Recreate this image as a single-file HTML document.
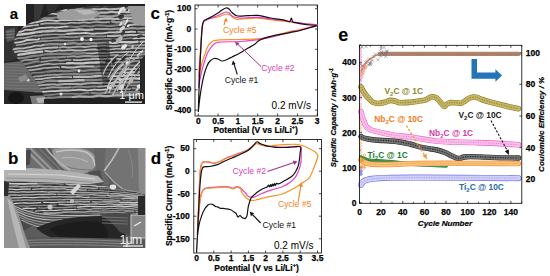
<!DOCTYPE html>
<html><head><meta charset="utf-8"><style>
html,body{margin:0;padding:0;background:#fff;}
svg{display:block;}
text{font-family:"Liberation Sans",sans-serif;}
.tk{font-size:8.5px;font-weight:bold;stroke:#000;stroke-width:0.25px;}
.ax{font-size:8.5px;font-weight:bold;stroke:#000;stroke-width:0.2px;}
.it{font-style:italic;}
.lb{font-size:8.6px;}
.b{font-weight:bold;}
.eb{font-size:8.4px;font-weight:bold;}
.rt{font-size:10px;}
.pl{font-size:14px;font-weight:bold;stroke:#000;stroke-width:0.12px;}
</style></head><body>
<svg width="550" height="276" viewBox="0 0 550 276">
<rect width="550" height="276" fill="#fff"/>
<clipPath id="ca"><path d="M26,4 H145 V104 H4 V26 H26 Z"/></clipPath>
<clipPath id="pa"><path d="M24,26 L28,24 L40,19 L52,13 L66,9 L85,7 L110,6 L130,6 L146,6 L146,55 L140,60 L140,97 L130,99 L100,98 L70,98 L46,99 L42,92 L32,75 L22,62 L12,56 L12,44 L18,32 Z"/></clipPath>
<filter id="bl" x="0" y="0" width="1" height="1"><feGaussianBlur stdDeviation="0.35"/></filter>
<g clip-path="url(#ca)"><g filter="url(#bl)">
<rect x="0" y="0" width="150" height="110" fill="#242424"/>
<path d="M34,4 L44,4 L40,18 L34,21 Z" fill="#383838"/>
<path d="M46,4 L60,4 L54,12 L48,14 Z" fill="#2e2e2e"/>
<path d="M4,26 H18 L17,40 L15,60 L4,62 Z" fill="#333"/>
<path d="M6,30 L15,28 L14,40 L7,42 Z" fill="#5a5a5a"/>
<path d="M5,32 L15,31" stroke="#808080" stroke-width="0.8"/>
<path d="M5,35 L15,34" stroke="#808080" stroke-width="0.8"/>
<path d="M5,38 L15,37" stroke="#808080" stroke-width="0.8"/>
<path d="M4,63 L22,61 L32,75 L43,92 L22,93 L4,91 Z" fill="#666"/>
<path d="M5,64 L23.5,65" stroke="#7a7a7a" stroke-width="0.8"/>
<path d="M5,67 L25.8,68" stroke="#7a7a7a" stroke-width="0.8"/>
<path d="M5,70 L28.0,71" stroke="#7a7a7a" stroke-width="0.8"/>
<path d="M5,73 L30.2,74" stroke="#7a7a7a" stroke-width="0.8"/>
<path d="M5,76 L32.5,77" stroke="#7a7a7a" stroke-width="0.8"/>
<path d="M5,79 L34.8,80" stroke="#7a7a7a" stroke-width="0.8"/>
<path d="M5,82 L37.0,83" stroke="#7a7a7a" stroke-width="0.8"/>
<path d="M5,85 L39.2,86" stroke="#7a7a7a" stroke-width="0.8"/>
<path d="M5,88 L41.5,89" stroke="#7a7a7a" stroke-width="0.8"/>
<path d="M5,91 L42.0,92" stroke="#7a7a7a" stroke-width="0.8"/>
<circle cx="28" cy="80" r="1.6" fill="#d8d8d8"/><path d="M18,78 L26,74 L28,80 L20,82 Z" fill="#8a8a8a"/>
<path d="M4,90 L34,92 L38,104 L4,104 Z" fill="#262626"/>
<ellipse cx="16" cy="98" rx="8" ry="6" fill="#161616"/>
<path d="M30,96 L52,95 L58,104 L32,104 Z" fill="#7a7a7a"/>
<path d="M36,98 L46,97 L50,102 L38,103 Z" fill="#b0b0b0"/>
<g clip-path="url(#pa)">
<rect x="0" y="0" width="150" height="110" fill="#383838"/>
<path d="M14.6,11.2 C15.8,11.0 19.6,10.3 21.9,10.2 C24.1,10.0 26.3,10.3 28.2,10.0 C30.1,9.7 31.3,8.8 33.1,8.5 C34.8,8.1 36.8,8.1 38.7,7.8 C40.7,7.5 42.9,6.7 44.9,6.7 C47.0,6.6 49.6,7.3 51.2,7.3 C52.8,7.4 53.8,6.9 54.3,6.8" stroke="#ababab" stroke-width="2.07" fill="none" stroke-linecap="round"/>
<path d="M55.0,7.3 C55.7,7.2 57.6,7.2 59.2,7.0 C60.7,6.8 62.7,6.3 64.3,6.2 C65.9,6.0 66.8,6.2 68.8,6.2 C70.8,6.1 73.8,5.8 76.1,5.8 C78.3,5.8 80.4,6.1 82.4,6.1 C84.4,6.1 86.3,6.0 87.9,5.8 C89.5,5.7 91.0,5.3 92.1,5.2 C93.3,5.2 94.4,5.5 94.8,5.6" stroke="#c6c6c6" stroke-width="2.14" fill="none" stroke-linecap="round"/>
<path d="M96.4,6.0 C97.3,5.8 100.1,5.2 101.8,5.1 C103.5,5.1 105.0,5.6 106.6,5.5 C108.1,5.5 109.2,5.0 110.9,4.9 C112.6,4.8 114.9,4.8 116.9,4.8 C118.8,4.8 121.0,4.9 122.7,4.9 C124.3,4.8 125.5,4.7 127.0,4.6 C128.4,4.6 129.5,4.4 131.6,4.3 C133.7,4.3 138.0,4.2 139.3,4.2 C140.7,4.2 139.6,4.2 139.7,4.2" stroke="#b8b8b8" stroke-width="1.66" fill="none" stroke-linecap="round"/>
<path d="M141.6,4.0 L146.0,4.1" stroke="#b8b8b8" stroke-width="2.24" fill="none" stroke-linecap="round"/>
<path d="M15.8,15.4 C16.7,15.2 19.0,14.8 21.0,14.5 C23.0,14.1 25.5,13.6 27.8,13.3 C30.0,13.0 32.7,13.0 34.6,12.7 C36.5,12.5 38.3,11.8 39.0,11.7" stroke="#838383" stroke-width="2.35" fill="none" stroke-linecap="round"/>
<path d="M40.4,11.0 C41.6,10.9 45.5,10.4 47.5,10.3 C49.5,10.2 50.4,10.5 52.5,10.4 C54.6,10.4 57.8,10.0 60.0,9.9 C62.2,9.9 64.7,10.2 65.8,10.2 C66.8,10.2 66.2,10.2 66.3,10.1" stroke="#c6c6c6" stroke-width="2.26" fill="none" stroke-linecap="round"/>
<path d="M68.9,10.5 C70.1,10.4 73.7,9.9 75.7,9.7 C77.6,9.5 79.0,9.3 80.6,9.3 C82.2,9.3 83.8,9.7 85.2,9.7 C86.6,9.8 87.8,9.9 89.3,9.8 C90.7,9.7 92.4,9.2 94.0,9.1 C95.5,9.0 96.7,9.3 98.6,9.2 C100.4,9.2 103.2,8.8 105.0,8.8 C106.8,8.8 107.5,9.2 109.5,9.2 C111.6,9.2 114.8,8.9 117.3,8.8 C119.8,8.6 123.1,8.5 124.3,8.4" stroke="#b8b8b8" stroke-width="1.97" fill="none" stroke-linecap="round"/>
<path d="M126.9,8.2 C127.9,8.1 130.5,7.9 132.5,7.8 C134.6,7.6 137.3,7.6 139.1,7.5 C140.9,7.5 142.2,7.5 143.3,7.5 C144.5,7.6 145.6,7.7 146.0,7.7" stroke="#838383" stroke-width="1.87" fill="none" stroke-linecap="round"/>
<path d="M16.3,18.0 C17.1,18.0 19.2,17.7 21.1,17.6 C23.0,17.5 25.5,17.5 27.7,17.2 C29.8,16.9 32.3,16.1 34.1,15.8 C35.9,15.4 36.5,15.4 38.5,15.1 C40.6,14.8 44.3,14.3 46.4,14.1 C48.6,13.8 49.7,13.6 51.7,13.6 C53.7,13.6 56.5,14.0 58.7,14.0 C60.8,14.0 63.2,13.8 64.6,13.8 C66.0,13.7 66.6,13.5 67.0,13.5" stroke="#b8b8b8" stroke-width="1.76" fill="none" stroke-linecap="round"/>
<path d="M69.9,13.4 C70.5,13.4 72.0,13.3 74.0,13.3 C76.0,13.3 79.4,13.5 81.9,13.4 C84.3,13.3 86.6,12.8 88.7,12.6 C90.7,12.4 92.7,12.3 94.1,12.3 C95.6,12.3 96.7,12.5 97.2,12.6" stroke="#b8b8b8" stroke-width="2.03" fill="none" stroke-linecap="round"/>
<path d="M99.6,12.6 C100.8,12.6 104.8,12.7 106.8,12.6 C108.8,12.4 109.8,11.9 111.6,11.9 C113.3,11.8 115.4,12.3 117.2,12.3 C118.9,12.3 120.0,11.9 122.0,11.8 C123.9,11.8 126.6,12.2 128.9,12.1 C131.2,12.0 134.1,11.5 136.1,11.4 C138.0,11.3 139.2,11.4 140.8,11.4 C142.5,11.3 145.1,11.2 146.0,11.1" stroke="#b8b8b8" stroke-width="2.25" fill="none" stroke-linecap="round"/>
<path d="M14.9,22.3 C15.8,22.1 18.1,21.8 20.3,21.5 C22.5,21.2 26.2,20.6 28.2,20.4 C30.2,20.2 30.7,20.3 32.2,20.1 C33.8,19.9 36.3,19.3 37.6,19.0 C38.9,18.8 39.6,18.6 40.0,18.5" stroke="#ababab" stroke-width="1.70" fill="none" stroke-linecap="round"/>
<path d="M41.5,18.3 C42.3,18.2 44.5,18.1 46.2,18.0 C47.9,18.0 49.3,18.0 51.5,17.9 C53.7,17.7 57.2,17.3 59.4,17.2 C61.7,17.2 62.9,17.7 65.0,17.6 C67.1,17.5 70.0,16.8 71.9,16.6 C73.8,16.4 74.4,16.4 76.4,16.5 C78.5,16.5 82.0,16.9 84.1,16.9 C86.1,17.0 86.6,16.9 88.6,16.8 C90.7,16.7 94.8,16.5 96.6,16.4 C98.3,16.3 98.6,16.2 99.0,16.2" stroke="#838383" stroke-width="2.04" fill="none" stroke-linecap="round"/>
<path d="M99.8,16.4 C100.6,16.3 102.7,16.2 104.2,16.2 C105.7,16.2 107.2,16.4 108.8,16.3 C110.4,16.3 112.1,16.3 113.6,16.1 C115.1,15.9 116.0,15.4 117.7,15.3 C119.4,15.2 121.8,15.7 123.7,15.7 C125.6,15.7 126.9,15.5 129.0,15.3 C131.1,15.1 134.0,14.6 136.3,14.6 C138.7,14.6 141.7,15.2 143.3,15.2 C144.9,15.2 145.5,14.8 146.0,14.7" stroke="#9c9c9c" stroke-width="2.25" fill="none" stroke-linecap="round"/>
<path d="M13.2,25.4 C14.0,25.2 16.0,24.6 17.9,24.3 C19.9,23.9 23.0,23.6 25.1,23.4 C27.3,23.2 29.5,23.2 31.0,23.0 C32.5,22.9 33.6,22.5 34.1,22.4" stroke="#c6c6c6" stroke-width="1.86" fill="none" stroke-linecap="round"/>
<path d="M35.9,22.4 C37.2,22.1 41.4,20.9 43.5,20.5 C45.5,20.1 46.7,20.2 48.2,20.2 C49.8,20.2 51.2,20.3 52.6,20.4 C54.1,20.5 55.4,20.8 56.7,20.8 C58.1,20.7 59.0,20.2 61.0,20.1 C63.0,20.0 66.8,20.2 68.9,20.1 C71.0,20.0 71.9,19.7 73.7,19.6 C75.5,19.6 78.7,20.0 79.7,20.0 C80.8,20.0 80.0,19.7 80.1,19.7" stroke="#c6c6c6" stroke-width="1.80" fill="none" stroke-linecap="round"/>
<path d="M81.9,20.0 C82.7,19.9 84.9,19.6 86.7,19.4 C88.4,19.3 90.5,19.2 92.4,19.2 C94.2,19.2 95.8,19.4 97.6,19.3 C99.4,19.2 101.5,18.8 103.3,18.7 C105.2,18.5 106.5,18.4 108.5,18.4 C110.6,18.5 113.4,19.1 115.7,19.0 C117.9,19.0 120.3,18.5 122.2,18.3 C124.2,18.1 125.4,17.9 127.2,17.9 C129.1,17.9 131.4,18.3 133.1,18.3 C134.8,18.4 136.0,18.4 137.5,18.3 C139.0,18.3 140.7,18.1 142.1,18.0 C143.6,17.9 145.4,17.7 146.0,17.7" stroke="#b8b8b8" stroke-width="2.17" fill="none" stroke-linecap="round"/>
<path d="M13.6,28.5 C14.5,28.4 16.9,28.1 18.9,27.8 C20.9,27.5 23.6,27.0 25.7,26.7 C27.9,26.3 29.7,26.0 31.8,25.7 C33.9,25.4 37.1,25.1 38.2,24.9" stroke="#b8b8b8" stroke-width="1.69" fill="none" stroke-linecap="round"/>
<path d="M41.0,24.1 C41.8,24.0 44.0,23.5 46.0,23.4 C48.1,23.3 51.2,23.4 53.2,23.4 C55.1,23.4 55.6,23.4 57.7,23.4 C59.7,23.5 63.2,23.7 65.3,23.6 C67.4,23.5 68.2,22.9 70.3,22.8 C72.5,22.7 75.6,23.1 78.0,23.0 C80.4,22.9 83.0,22.3 84.8,22.3 C86.7,22.3 87.4,22.8 89.1,22.8 C90.7,22.7 92.5,22.1 94.8,22.0 C97.0,21.9 100.0,22.3 102.5,22.3 C105.0,22.3 108.4,22.0 109.6,22.0" stroke="#ababab" stroke-width="1.67" fill="none" stroke-linecap="round"/>
<path d="M112.2,21.5 C112.9,21.6 114.6,22.2 116.2,22.3 C117.9,22.3 119.9,22.2 121.9,22.0 C123.9,21.8 126.2,21.0 128.4,20.9 C130.6,20.9 132.8,21.7 135.2,21.6 C137.7,21.6 141.4,20.8 143.1,20.7 C144.8,20.6 145.0,20.9 145.4,20.9" stroke="#9c9c9c" stroke-width="2.35" fill="none" stroke-linecap="round"/>
<path d="M14.3,31.8 C15.5,31.7 19.6,31.8 21.5,31.5 C23.4,31.1 24.0,30.1 25.7,29.9 C27.4,29.6 29.7,30.2 31.7,29.9 C33.7,29.6 35.8,28.6 37.8,28.3 C39.7,27.9 41.5,28.0 43.5,27.8 C45.6,27.7 48.0,27.5 50.2,27.4 C52.3,27.4 54.0,27.6 56.3,27.5 C58.7,27.4 62.3,26.8 64.2,26.7 C66.1,26.5 67.3,26.7 67.9,26.7" stroke="#c6c6c6" stroke-width="1.78" fill="none" stroke-linecap="round"/>
<path d="M68.9,26.4 C70.3,26.5 74.3,27.1 76.9,27.0 C79.4,26.9 81.9,25.9 84.2,25.8 C86.5,25.7 88.7,26.5 90.7,26.4 C92.8,26.4 94.4,25.6 96.5,25.4 C98.5,25.3 101.0,25.5 103.1,25.6 C105.2,25.7 107.1,26.0 109.1,26.0 C111.2,26.0 113.8,25.7 115.5,25.5 C117.3,25.3 118.2,25.0 119.7,24.9 C121.3,24.7 123.8,24.5 124.8,24.5 C125.7,24.6 125.3,24.9 125.4,25.0" stroke="#838383" stroke-width="1.86" fill="none" stroke-linecap="round"/>
<path d="M128.3,25.4 C129.2,25.3 132.0,24.8 133.6,24.6 C135.1,24.5 135.9,24.6 137.6,24.5 C139.2,24.5 142.1,24.5 143.5,24.5 C144.9,24.5 145.6,24.4 146.0,24.4" stroke="#b8b8b8" stroke-width="2.00" fill="none" stroke-linecap="round"/>
<path d="M13.2,35.3 C14.0,35.2 16.4,34.9 18.4,34.7 C20.3,34.5 22.5,34.3 24.7,34.0 C26.9,33.8 30.0,33.4 31.7,33.1 C33.5,32.8 34.6,32.5 35.2,32.4" stroke="#c6c6c6" stroke-width="2.30" fill="none" stroke-linecap="round"/>
<path d="M36.7,32.2 C37.6,32.1 40.2,31.7 41.8,31.5 C43.5,31.4 44.5,31.4 46.4,31.2 C48.3,31.1 51.2,30.8 53.3,30.7 C55.4,30.6 57.0,30.7 59.0,30.7 C61.0,30.7 62.9,30.9 65.0,30.8 C67.2,30.7 69.7,30.4 72.0,30.2 C74.4,30.0 77.0,29.5 79.3,29.4 C81.6,29.4 83.8,30.0 86.0,30.0 C88.3,30.0 91.6,29.6 92.7,29.5" stroke="#b8b8b8" stroke-width="2.36" fill="none" stroke-linecap="round"/>
<path d="M94.8,29.1 C95.8,29.1 98.2,28.9 100.3,28.9 C102.4,28.9 105.3,29.1 107.6,29.1 C109.9,29.2 112.7,29.1 114.1,29.0 C115.6,29.0 116.0,28.8 116.4,28.8" stroke="#9c9c9c" stroke-width="1.99" fill="none" stroke-linecap="round"/>
<path d="M116.9,28.8 C117.9,28.8 121.3,28.8 123.1,28.8 C124.8,28.8 125.8,28.9 127.3,28.7 C128.9,28.6 130.7,28.0 132.3,27.9 C134.0,27.9 135.7,28.4 137.4,28.4 C139.0,28.5 140.8,28.4 142.2,28.3 C143.6,28.2 145.4,28.0 146.0,27.9" stroke="#9c9c9c" stroke-width="2.00" fill="none" stroke-linecap="round"/>
<path d="M14.3,39.4 C15.0,39.2 17.1,38.4 18.6,38.2 C20.2,38.0 21.9,38.3 23.6,38.1 C25.3,37.9 27.3,37.5 28.8,37.1 C30.4,36.8 31.4,36.2 32.9,36.0 C34.4,35.8 36.0,36.0 38.0,35.8 C39.9,35.7 42.7,35.1 44.7,34.8 C46.7,34.6 48.1,34.6 49.9,34.5 C51.7,34.4 54.0,34.3 55.8,34.3 C57.5,34.3 58.7,34.5 60.2,34.6 C61.8,34.6 64.2,34.6 65.0,34.5 C65.8,34.4 65.1,34.1 65.1,34.0" stroke="#9c9c9c" stroke-width="1.61" fill="none" stroke-linecap="round"/>
<path d="M66.8,33.9 C67.6,33.8 69.7,33.6 71.9,33.5 C74.0,33.4 77.3,33.4 79.7,33.3 C82.0,33.2 83.9,33.0 86.0,33.0 C88.0,33.1 90.3,33.6 92.1,33.7 C93.8,33.7 94.8,33.5 96.6,33.4 C98.4,33.3 100.5,33.4 102.6,33.3 C104.8,33.1 107.1,32.6 109.5,32.4 C111.9,32.3 115.1,32.5 117.0,32.4 C119.0,32.3 119.5,31.9 121.1,31.8 C122.8,31.8 125.2,32.1 127.1,32.1 C129.0,32.1 131.0,31.7 132.3,31.6 C133.7,31.6 134.7,31.9 135.2,31.9" stroke="#c6c6c6" stroke-width="1.85" fill="none" stroke-linecap="round"/>
<path d="M137.8,31.7 C138.7,31.7 142.0,32.1 143.4,32.1 C144.8,32.1 145.6,31.7 146.0,31.6" stroke="#9c9c9c" stroke-width="1.61" fill="none" stroke-linecap="round"/>
<path d="M15.1,42.7 C16.3,42.6 20.1,42.1 22.2,41.6 C24.2,41.2 25.3,40.4 27.3,40.0 C29.3,39.7 32.1,39.8 33.9,39.6 C35.8,39.5 37.7,39.4 38.5,39.3 C39.4,39.1 38.9,38.8 39.0,38.7" stroke="#c6c6c6" stroke-width="1.85" fill="none" stroke-linecap="round"/>
<path d="M41.4,38.7 C42.5,38.6 45.5,38.4 47.9,38.2 C50.3,38.0 53.2,37.8 55.7,37.6 C58.1,37.4 60.3,36.9 62.6,36.9 C64.9,36.8 67.2,37.0 69.5,37.1 C71.8,37.1 74.5,37.2 76.5,37.0 C78.5,36.9 79.5,36.4 81.6,36.3 C83.8,36.1 87.1,36.2 89.4,36.1 C91.6,36.1 93.4,36.1 95.2,36.2 C97.1,36.2 98.7,36.4 100.4,36.4 C102.2,36.4 104.7,36.1 105.6,36.0" stroke="#8e8e8e" stroke-width="1.81" fill="none" stroke-linecap="round"/>
<path d="M107.7,36.1 C108.5,36.1 110.8,36.0 112.2,36.0 C113.7,35.9 114.6,35.8 116.5,35.7 C118.5,35.6 121.6,35.6 123.8,35.5 C126.0,35.4 127.4,35.2 129.6,35.1 C131.7,35.1 134.4,35.1 136.6,35.0 C138.8,34.9 141.3,34.7 142.8,34.7 C144.4,34.6 145.5,34.8 146.0,34.8" stroke="#b8b8b8" stroke-width="2.04" fill="none" stroke-linecap="round"/>
<path d="M16.6,45.2 C17.5,45.0 20.4,44.7 22.2,44.4 C24.1,44.1 26.1,43.7 27.7,43.4 C29.3,43.1 29.9,43.1 32.0,42.7 C34.0,42.4 37.5,41.7 39.8,41.4 C42.2,41.1 43.6,41.2 45.9,41.1 C48.1,40.9 51.2,40.6 53.3,40.5 C55.4,40.3 56.6,40.4 58.4,40.3 C60.2,40.3 61.8,40.3 64.0,40.4 C66.2,40.4 70.1,40.6 71.8,40.5 C73.5,40.5 73.7,40.2 74.0,40.1" stroke="#9c9c9c" stroke-width="1.62" fill="none" stroke-linecap="round"/>
<path d="M74.6,40.4 C75.9,40.3 80.5,39.9 82.5,39.9 C84.5,39.8 84.8,40.2 86.8,40.2 C88.8,40.1 92.2,39.7 94.5,39.5 C96.8,39.4 98.2,39.4 100.4,39.3 C102.5,39.2 105.5,38.8 107.5,38.8 C109.5,38.9 110.6,39.4 112.1,39.4 C113.6,39.5 114.7,39.2 116.5,39.2 C118.4,39.1 121.0,39.2 123.4,39.0 C125.7,38.8 129.4,38.1 130.9,38.0 C132.5,37.9 132.5,38.3 132.8,38.4" stroke="#838383" stroke-width="1.60" fill="none" stroke-linecap="round"/>
<path d="M133.6,38.5 C134.5,38.4 137.1,37.9 138.8,37.8 C140.5,37.8 142.6,38.1 143.8,38.2 C145.0,38.2 145.6,38.0 146.0,38.0" stroke="#c6c6c6" stroke-width="1.69" fill="none" stroke-linecap="round"/>
<path d="M13.5,49.4 C14.2,49.2 15.9,48.7 17.6,48.5 C19.2,48.3 21.3,48.5 23.4,48.3 C25.5,48.0 27.9,47.6 30.0,47.2 C32.1,46.8 34.1,45.9 35.9,45.7 C37.7,45.4 39.4,45.8 40.9,45.6 C42.4,45.5 44.1,44.8 44.7,44.6" stroke="#b8b8b8" stroke-width="1.85" fill="none" stroke-linecap="round"/>
<path d="M45.3,44.7 C46.0,44.6 47.9,44.2 49.6,44.1 C51.3,44.0 53.3,44.1 55.3,44.1 C57.2,44.1 59.1,44.3 61.3,44.3 C63.4,44.2 66.1,43.9 68.1,43.7 C70.2,43.5 71.9,43.2 73.7,43.2 C75.5,43.2 77.3,43.8 78.9,43.9 C80.5,43.9 81.6,43.5 83.2,43.4 C84.7,43.3 86.4,43.6 88.0,43.5 C89.6,43.5 91.1,43.1 92.7,43.1 C94.4,43.1 96.2,43.4 97.8,43.4 C99.4,43.3 100.4,43.0 102.2,43.0 C104.0,42.9 107.5,43.1 108.7,43.0 C109.9,43.0 109.4,42.7 109.5,42.6" stroke="#8e8e8e" stroke-width="2.33" fill="none" stroke-linecap="round"/>
<path d="M110.2,42.5 C111.0,42.6 113.4,43.0 115.0,42.9 C116.6,42.8 118.1,42.0 119.6,41.9 C121.0,41.7 121.8,42.0 123.8,42.1 C125.8,42.2 129.1,42.4 131.4,42.3 C133.7,42.3 136.5,41.9 137.5,41.8" stroke="#c6c6c6" stroke-width="2.40" fill="none" stroke-linecap="round"/>
<path d="M140.3,41.8 L146.0,41.5" stroke="#b8b8b8" stroke-width="1.97" fill="none" stroke-linecap="round"/>
<path d="M15.0,51.9 C15.7,51.8 17.6,51.4 19.3,51.2 C21.0,51.1 23.0,51.4 25.0,51.2 C27.0,51.0 29.3,50.4 31.2,50.1 C33.2,49.8 35.0,49.6 36.7,49.3 C38.5,49.0 40.4,48.8 42.0,48.6 C43.6,48.3 44.8,48.1 46.3,48.0 C47.9,47.8 49.4,47.8 51.1,47.7 C52.9,47.5 55.9,47.3 56.9,47.3 C57.9,47.2 57.1,47.4 57.1,47.4" stroke="#b8b8b8" stroke-width="1.98" fill="none" stroke-linecap="round"/>
<path d="M59.2,47.6 C59.9,47.5 62.0,46.8 63.4,46.8 C64.8,46.8 66.1,47.5 67.6,47.5 C69.2,47.6 70.5,47.4 72.6,47.2 C74.7,47.1 78.1,46.6 80.2,46.6 C82.3,46.6 83.4,47.1 85.3,47.0 C87.2,47.0 89.6,46.3 91.8,46.2 C94.0,46.0 96.7,46.1 98.7,46.0 C100.6,45.9 101.7,45.5 103.8,45.5 C105.8,45.6 108.5,46.2 110.8,46.2 C113.0,46.3 115.8,46.2 117.3,46.1 C118.8,46.0 119.4,45.6 119.8,45.6" stroke="#ababab" stroke-width="1.79" fill="none" stroke-linecap="round"/>
<path d="M121.5,45.4 C122.3,45.4 124.6,45.3 126.5,45.3 C128.3,45.3 130.7,45.6 132.4,45.6 C134.2,45.6 135.2,45.4 137.2,45.3 C139.1,45.3 142.7,45.2 144.1,45.1 C145.6,45.1 145.7,44.8 146.0,44.8" stroke="#8e8e8e" stroke-width="2.09" fill="none" stroke-linecap="round"/>
<path d="M18.3,54.9 C19.4,54.7 23.4,54.2 25.3,53.9 C27.2,53.6 27.8,53.3 29.5,53.0 C31.3,52.8 33.6,52.6 35.8,52.4 C37.9,52.1 41.1,51.7 42.2,51.6" stroke="#c6c6c6" stroke-width="2.31" fill="none" stroke-linecap="round"/>
<path d="M45.2,50.9 C46.1,51.0 48.6,51.6 50.9,51.5 C53.1,51.4 56.7,50.6 58.8,50.4 C60.8,50.3 61.3,50.6 63.3,50.6 C65.3,50.5 68.6,50.1 70.9,50.1 C73.1,50.1 74.8,50.5 77.0,50.5 C79.2,50.5 82.0,50.4 84.1,50.3 C86.1,50.1 87.5,49.8 89.2,49.6 C90.9,49.5 93.1,49.4 94.3,49.4 C95.5,49.4 96.1,49.6 96.4,49.6" stroke="#b8b8b8" stroke-width="1.95" fill="none" stroke-linecap="round"/>
<path d="M97.4,50.0 C98.4,49.9 101.7,49.3 103.7,49.2 C105.7,49.2 107.3,49.8 109.3,49.7 C111.2,49.7 113.1,48.9 115.3,48.8 C117.5,48.7 120.9,49.0 122.5,49.0 C124.2,49.0 124.6,48.8 125.1,48.8" stroke="#ababab" stroke-width="1.68" fill="none" stroke-linecap="round"/>
<path d="M126.7,49.1 C127.4,49.0 129.5,48.5 130.9,48.4 C132.3,48.2 133.3,48.2 135.4,48.1 C137.4,48.1 141.5,48.3 143.3,48.3 C145.0,48.3 145.5,48.2 146.0,48.1" stroke="#ababab" stroke-width="1.90" fill="none" stroke-linecap="round"/>
<path d="M18.2,58.2 C19.3,58.1 22.7,58.0 24.6,57.7 C26.5,57.5 27.9,57.1 29.5,56.7 C31.0,56.4 32.4,56.1 34.0,55.9 C35.6,55.7 37.1,55.8 39.0,55.5 C41.0,55.3 43.9,54.4 45.6,54.2 C47.4,54.0 47.9,54.3 49.7,54.2 C51.5,54.2 54.4,54.0 56.4,53.9 C58.4,53.8 59.6,53.8 61.7,53.8 C63.7,53.8 66.9,54.0 68.8,53.9 C70.7,53.8 71.4,53.4 73.1,53.3 C74.7,53.3 76.6,53.7 78.7,53.6 C80.7,53.5 84.1,53.0 85.2,52.9 C86.4,52.9 85.4,53.3 85.5,53.3" stroke="#838383" stroke-width="2.16" fill="none" stroke-linecap="round"/>
<path d="M87.0,53.2 C87.7,53.2 89.3,53.5 91.2,53.4 C93.2,53.3 96.8,52.9 98.7,52.8 C100.7,52.8 100.9,53.1 102.8,53.1 C104.7,53.1 107.9,52.9 110.0,52.7 C112.2,52.6 113.4,52.4 115.6,52.3 C117.8,52.2 121.3,52.2 123.4,52.1 C125.4,52.0 126.5,51.7 128.0,51.7 C129.5,51.7 130.7,51.9 132.4,52.0 C134.0,52.1 136.5,52.1 137.8,52.0 C139.2,52.0 140.0,51.7 140.4,51.7" stroke="#b8b8b8" stroke-width="1.64" fill="none" stroke-linecap="round"/>
<path d="M141.3,51.8 L146.0,51.5" stroke="#8e8e8e" stroke-width="2.00" fill="none" stroke-linecap="round"/>
<path d="M13.4,62.2 C14.6,62.1 18.6,61.9 20.6,61.6 C22.6,61.2 23.3,60.3 25.4,60.0 C27.5,59.7 30.9,60.0 33.2,59.7 C35.4,59.4 37.9,58.6 38.8,58.4" stroke="#9c9c9c" stroke-width="1.64" fill="none" stroke-linecap="round"/>
<path d="M41.6,58.2 C42.8,58.1 46.2,57.8 48.4,57.7 C50.6,57.6 52.8,57.6 54.9,57.5 C57.1,57.4 59.6,57.2 61.4,57.1 C63.3,56.9 65.2,56.8 65.9,56.8" stroke="#8e8e8e" stroke-width="1.98" fill="none" stroke-linecap="round"/>
<path d="M67.9,56.8 C68.8,56.7 71.6,56.2 73.4,56.2 C75.1,56.2 76.3,56.7 78.4,56.7 C80.5,56.6 83.7,55.8 86.0,55.7 C88.3,55.7 90.5,56.2 92.2,56.3 C94.0,56.4 94.9,56.3 96.4,56.2 C97.8,56.2 99.1,55.9 100.8,55.9 C102.6,55.8 105.9,55.7 107.0,55.7 C108.2,55.6 107.7,55.6 107.8,55.5" stroke="#9c9c9c" stroke-width="1.94" fill="none" stroke-linecap="round"/>
<path d="M109.8,55.4 C110.8,55.3 114.1,54.9 115.8,55.0 C117.5,55.0 118.2,55.7 119.8,55.7 C121.5,55.7 123.6,55.0 125.7,55.0 C127.7,54.9 129.9,55.1 132.2,55.1 C134.5,55.1 137.4,55.1 139.5,54.9 C141.7,54.7 144.0,54.1 145.1,54.0 C146.2,53.9 145.9,54.3 146.0,54.4" stroke="#8e8e8e" stroke-width="1.89" fill="none" stroke-linecap="round"/>
<path d="M12.3,66.0 C13.2,65.9 16.0,65.3 17.6,65.0 C19.2,64.8 19.9,64.7 21.9,64.4 C23.9,64.1 27.0,63.7 29.5,63.2 C31.9,62.7 35.1,61.8 36.6,61.5 C38.2,61.2 38.5,61.6 38.8,61.6" stroke="#838383" stroke-width="2.09" fill="none" stroke-linecap="round"/>
<path d="M41.1,61.8 C42.1,61.7 44.8,61.4 47.0,61.1 C49.3,60.8 52.2,60.2 54.7,60.1 C57.2,60.0 60.0,60.7 61.9,60.6 C63.8,60.6 64.6,60.0 66.1,59.9 C67.6,59.8 70.0,59.9 70.8,59.9" stroke="#9c9c9c" stroke-width="1.73" fill="none" stroke-linecap="round"/>
<path d="M73.5,59.8 C74.3,59.9 76.7,60.2 78.5,60.2 C80.3,60.1 82.4,59.8 84.4,59.6 C86.5,59.4 88.9,59.2 90.9,59.1 C92.9,58.9 94.5,58.9 96.4,58.9 C98.2,58.9 100.2,59.2 102.0,59.1 C103.8,59.1 105.3,58.7 107.1,58.7 C108.9,58.6 110.9,59.0 112.6,59.0 C114.4,59.0 116.1,58.8 117.7,58.8 C119.2,58.8 119.9,58.9 121.9,58.8 C123.9,58.6 127.4,58.2 129.7,58.1 C132.1,58.0 134.3,58.2 135.8,58.2 C137.3,58.1 138.3,57.9 138.8,57.9" stroke="#b8b8b8" stroke-width="1.80" fill="none" stroke-linecap="round"/>
<path d="M140.6,57.7 L146.0,57.7" stroke="#8e8e8e" stroke-width="1.90" fill="none" stroke-linecap="round"/>
<path d="M15.5,69.2 C16.4,69.0 19.0,68.2 20.7,68.0 C22.5,67.7 23.8,67.9 26.0,67.6 C28.1,67.4 30.9,66.9 33.4,66.5 C36.0,66.1 38.6,65.6 41.0,65.1 C43.5,64.7 46.0,64.1 48.0,63.9 C50.0,63.8 51.4,64.2 53.2,64.2 C55.0,64.2 57.2,63.8 58.9,63.8 C60.5,63.7 61.8,63.8 63.0,63.8 C64.3,63.7 65.8,63.7 66.3,63.7" stroke="#ababab" stroke-width="1.64" fill="none" stroke-linecap="round"/>
<path d="M66.9,63.3 C67.8,63.3 70.4,63.2 72.4,63.2 C74.3,63.2 76.8,63.4 78.7,63.4 C80.6,63.4 81.7,63.4 83.5,63.3 C85.3,63.2 87.1,62.8 89.4,62.6 C91.7,62.5 95.1,62.6 97.2,62.5 C99.2,62.4 100.5,62.2 101.8,62.2 C103.0,62.2 104.2,62.5 104.7,62.5" stroke="#c6c6c6" stroke-width="2.30" fill="none" stroke-linecap="round"/>
<path d="M107.1,62.9 C107.9,62.9 109.4,62.8 111.4,62.6 C113.3,62.5 116.6,62.3 118.9,62.2 C121.3,62.1 123.2,62.1 125.3,62.0 C127.3,61.9 129.5,61.9 131.3,61.7 C133.1,61.6 134.5,61.2 136.0,61.1 C137.5,61.0 138.7,61.0 140.2,61.0 C141.7,61.0 144.0,60.9 145.0,61.0 C145.9,61.0 145.8,61.2 146.0,61.3" stroke="#8e8e8e" stroke-width="1.68" fill="none" stroke-linecap="round"/>
<path d="M13.1,72.8 C14.2,72.6 17.6,72.0 19.7,71.6 C21.9,71.3 24.4,71.0 26.2,70.7 C28.0,70.5 28.4,70.5 30.4,70.2 C32.5,69.9 36.1,69.5 38.4,69.1 C40.7,68.7 42.4,68.3 44.3,68.0 C46.2,67.8 47.6,67.8 49.8,67.7 C52.0,67.5 55.9,67.1 57.5,67.1 C59.0,67.1 58.8,67.4 59.1,67.5" stroke="#ababab" stroke-width="1.74" fill="none" stroke-linecap="round"/>
<path d="M62.0,66.9 C62.9,67.0 65.4,67.4 67.4,67.5 C69.4,67.6 71.9,67.5 74.2,67.4 C76.4,67.2 78.8,66.7 81.0,66.6 C83.2,66.5 85.1,66.6 87.2,66.6 C89.3,66.5 92.6,66.5 93.7,66.4" stroke="#b8b8b8" stroke-width="2.02" fill="none" stroke-linecap="round"/>
<path d="M94.8,66.8 C95.5,66.7 97.7,66.3 99.2,66.3 C100.7,66.2 101.8,66.6 103.8,66.5 C105.8,66.4 109.2,65.7 111.2,65.6 C113.2,65.6 114.3,66.2 115.8,66.2 C117.4,66.2 118.8,65.7 120.6,65.5 C122.5,65.4 124.7,65.3 127.0,65.3 C129.3,65.3 131.9,65.6 134.4,65.6 C137.0,65.6 140.4,65.4 142.4,65.3 C144.3,65.2 145.4,64.9 146.0,64.9" stroke="#838383" stroke-width="1.98" fill="none" stroke-linecap="round"/>
<path d="M15.5,76.4 C16.7,76.1 20.4,75.2 22.7,74.8 C24.9,74.4 27.2,74.4 29.0,74.0 C30.8,73.7 32.2,73.0 33.7,72.8 C35.2,72.6 36.6,72.8 38.1,72.7 C39.6,72.6 41.3,72.6 42.8,72.4 C44.3,72.2 46.5,71.6 47.2,71.5" stroke="#838383" stroke-width="1.62" fill="none" stroke-linecap="round"/>
<path d="M48.0,71.7 C49.2,71.5 52.8,70.9 55.0,70.8 C57.2,70.7 59.1,70.9 61.3,70.9 C63.6,71.0 66.1,71.3 68.6,71.2 C71.1,71.0 73.7,70.2 76.2,70.2 C78.7,70.1 81.1,70.9 83.7,70.8 C86.2,70.7 89.3,70.0 91.4,69.8 C93.5,69.6 94.9,69.6 96.3,69.6 C97.6,69.7 99.1,69.9 99.7,69.9" stroke="#838383" stroke-width="2.28" fill="none" stroke-linecap="round"/>
<path d="M102.3,70.1 C103.3,70.0 106.9,69.7 108.8,69.6 C110.6,69.6 111.5,69.9 113.3,69.8 C115.2,69.7 117.9,69.3 119.9,69.1 C121.9,69.0 124.1,68.9 125.3,68.9 C126.4,68.9 126.4,69.1 126.6,69.1" stroke="#838383" stroke-width="2.34" fill="none" stroke-linecap="round"/>
<path d="M127.3,69.4 C128.3,69.3 131.7,68.9 133.7,68.9 C135.6,68.8 136.8,69.1 138.8,69.0 C140.9,68.9 144.8,68.1 146.0,68.1 C147.2,68.0 146.0,68.4 146.0,68.5" stroke="#b8b8b8" stroke-width="1.68" fill="none" stroke-linecap="round"/>
<path d="M13.7,79.3 C14.7,79.2 17.7,78.9 19.5,78.7 C21.3,78.5 23.1,78.4 24.6,78.1 C26.2,77.9 27.4,77.3 28.8,77.1 C30.3,76.9 31.3,77.0 33.2,76.8 C35.2,76.6 38.3,76.2 40.5,76.0 C42.8,75.7 44.8,75.4 46.9,75.2 C49.0,75.0 51.2,74.7 53.0,74.7 C54.7,74.6 56.0,74.8 57.6,74.8 C59.2,74.7 61.6,74.4 62.5,74.3" stroke="#9c9c9c" stroke-width="1.79" fill="none" stroke-linecap="round"/>
<path d="M63.4,74.3 C64.7,74.2 69.3,74.2 71.3,74.1 C73.4,74.0 74.3,73.7 75.8,73.7 C77.2,73.8 78.1,74.2 80.1,74.2 C82.1,74.2 85.5,73.9 87.7,73.8 C89.9,73.7 91.5,73.7 93.4,73.5 C95.3,73.4 97.0,73.1 98.9,73.0 C100.7,72.9 102.9,73.0 104.6,73.1 C106.3,73.2 107.4,73.4 109.3,73.4 C111.1,73.4 114.0,73.3 115.8,73.2 C117.6,73.0 119.3,72.8 120.3,72.7 C121.3,72.6 121.5,72.6 121.7,72.5" stroke="#838383" stroke-width="2.08" fill="none" stroke-linecap="round"/>
<path d="M122.3,72.2 C123.5,72.2 127.3,72.5 129.7,72.5 C132.1,72.4 134.5,71.8 136.6,71.8 C138.8,71.7 140.8,72.2 142.4,72.2 C144.0,72.2 145.4,71.9 146.0,71.8" stroke="#c6c6c6" stroke-width="1.70" fill="none" stroke-linecap="round"/>
<path d="M13.5,83.0 C14.6,82.8 17.6,82.3 20.0,81.9 C22.4,81.5 25.5,81.1 27.9,80.7 C30.3,80.3 32.4,79.6 34.3,79.4 C36.2,79.1 37.6,79.4 39.3,79.2 C40.9,79.1 42.1,78.8 44.3,78.5 C46.5,78.2 49.8,77.6 52.3,77.4 C54.7,77.1 57.0,77.3 58.9,77.2 C60.8,77.1 61.9,77.0 63.5,77.0 C65.1,77.0 67.4,77.0 68.7,77.0 C70.0,77.0 70.8,77.1 71.3,77.1" stroke="#b8b8b8" stroke-width="1.69" fill="none" stroke-linecap="round"/>
<path d="M74.0,76.9 C74.7,76.9 76.3,76.8 78.2,76.8 C80.1,76.8 83.2,76.9 85.3,76.9 C87.5,76.9 89.4,76.8 91.3,76.7 C93.3,76.5 95.2,76.1 97.2,76.0 C99.2,75.9 102.4,76.0 103.6,76.1 C104.8,76.1 104.2,76.1 104.4,76.1" stroke="#b8b8b8" stroke-width="2.33" fill="none" stroke-linecap="round"/>
<path d="M105.9,76.2 C107.2,76.2 111.0,76.1 113.3,76.0 C115.7,76.0 117.7,76.1 119.9,76.0 C122.1,76.0 124.6,75.7 126.5,75.6 C128.4,75.4 129.9,75.1 131.4,75.0 C133.0,74.9 134.3,75.1 135.9,75.1 C137.5,75.2 139.3,75.3 141.0,75.2 C142.6,75.2 145.2,74.9 146.0,74.9" stroke="#c6c6c6" stroke-width="1.79" fill="none" stroke-linecap="round"/>
<path d="M14.0,85.5 C15.2,85.4 19.1,85.1 21.4,84.9 C23.8,84.7 25.7,84.6 28.1,84.2 C30.4,83.9 33.7,82.9 35.7,82.6 C37.6,82.3 37.8,82.7 39.7,82.5 C41.6,82.2 45.2,81.1 47.3,80.9 C49.4,80.6 50.5,80.8 52.3,80.8 C54.1,80.8 57.2,80.9 58.1,80.9" stroke="#8e8e8e" stroke-width="2.36" fill="none" stroke-linecap="round"/>
<path d="M59.1,81.0 C60.2,81.0 63.3,81.0 65.3,80.9 C67.3,80.9 69.1,80.8 71.4,80.7 C73.6,80.6 76.5,80.4 78.7,80.3 C80.8,80.3 83.3,80.2 84.2,80.2" stroke="#b8b8b8" stroke-width="2.36" fill="none" stroke-linecap="round"/>
<path d="M85.2,80.1 C86.5,80.1 90.6,80.2 92.9,80.1 C95.3,80.1 97.5,80.0 99.4,79.8 C101.3,79.7 102.9,79.6 104.4,79.4 C106.0,79.3 107.0,79.0 108.7,79.0 C110.3,79.0 113.4,79.2 114.4,79.3" stroke="#838383" stroke-width="2.10" fill="none" stroke-linecap="round"/>
<path d="M116.6,78.9 C117.8,79.0 121.4,79.5 123.6,79.4 C125.7,79.4 127.4,78.7 129.7,78.5 C131.9,78.4 134.9,78.5 136.9,78.5 C138.9,78.4 140.2,78.1 141.7,78.1 C143.2,78.0 145.3,78.3 146.0,78.3" stroke="#c6c6c6" stroke-width="2.25" fill="none" stroke-linecap="round"/>
<path d="M17.8,89.1 C19.0,88.9 22.8,88.6 25.0,88.2 C27.2,87.8 28.9,87.2 30.9,86.8 C32.9,86.4 34.9,86.0 37.1,85.7 C39.4,85.3 42.0,85.0 44.4,84.8 C46.9,84.6 50.0,84.5 51.8,84.4 C53.7,84.4 54.8,84.5 55.4,84.5" stroke="#ababab" stroke-width="1.80" fill="none" stroke-linecap="round"/>
<path d="M57.0,84.8 C58.2,84.7 61.9,84.3 64.2,84.1 C66.5,84.0 68.7,83.9 70.8,83.9 C72.9,83.9 75.0,84.0 76.7,84.0 C78.5,84.1 79.6,84.3 81.1,84.2 C82.6,84.1 84.0,83.6 85.7,83.4 C87.4,83.3 89.3,83.1 91.2,83.1 C93.2,83.0 95.9,83.1 97.5,83.1 C99.1,83.1 100.5,83.2 101.1,83.2" stroke="#ababab" stroke-width="2.02" fill="none" stroke-linecap="round"/>
<path d="M102.4,82.6 C103.7,82.7 108.1,83.1 110.2,83.1 C112.4,83.0 113.6,82.5 115.2,82.4 C116.8,82.2 118.5,82.3 119.8,82.4 C121.1,82.4 122.6,82.5 123.2,82.5" stroke="#c6c6c6" stroke-width="1.88" fill="none" stroke-linecap="round"/>
<path d="M124.1,82.2 C125.3,82.2 129.2,82.4 131.6,82.4 C134.1,82.4 136.4,82.3 138.7,82.2 C141.1,82.1 144.8,81.9 146.0,81.8" stroke="#8e8e8e" stroke-width="2.23" fill="none" stroke-linecap="round"/>
<path d="M13.7,92.7 C15.0,92.5 19.1,92.0 21.2,91.7 C23.3,91.3 24.7,90.8 26.3,90.6 C27.9,90.3 29.4,90.3 30.9,90.2 C32.3,90.0 33.6,89.7 35.1,89.5 C36.6,89.3 37.9,89.1 39.7,88.8 C41.4,88.6 43.4,88.3 45.7,88.1 C47.9,87.8 50.6,87.4 53.1,87.3 C55.6,87.2 58.2,87.5 60.5,87.5 C62.7,87.6 65.0,87.6 66.7,87.5 C68.4,87.5 70.1,87.3 70.8,87.3" stroke="#9c9c9c" stroke-width="1.90" fill="none" stroke-linecap="round"/>
<path d="M72.3,87.4 C73.4,87.2 76.7,86.6 78.9,86.5 C81.1,86.5 83.0,87.0 85.3,87.0 C87.7,87.0 91.3,86.5 93.1,86.4 C94.9,86.3 95.6,86.5 96.1,86.5" stroke="#838383" stroke-width="2.01" fill="none" stroke-linecap="round"/>
<path d="M97.8,86.7 C98.9,86.6 102.0,86.2 104.3,86.1 C106.7,86.0 109.6,85.9 111.8,85.9 C114.0,85.9 116.4,85.9 117.7,85.9 C119.0,85.9 119.2,85.8 119.5,85.8" stroke="#ababab" stroke-width="1.77" fill="none" stroke-linecap="round"/>
<path d="M121.1,85.3 C122.0,85.3 124.4,85.5 126.3,85.5 C128.1,85.4 129.9,85.2 132.2,85.3 C134.6,85.3 138.0,85.6 140.2,85.6 C142.4,85.5 144.6,84.8 145.6,84.7 C146.5,84.6 145.9,85.0 146.0,85.0" stroke="#8e8e8e" stroke-width="1.69" fill="none" stroke-linecap="round"/>
<path d="M16.7,96.0 C17.6,95.8 20.4,95.1 22.3,94.7 C24.2,94.4 26.0,94.3 27.9,93.9 C29.8,93.5 31.9,92.8 33.5,92.6 C35.1,92.4 36.4,92.8 37.7,92.7 C39.0,92.6 40.5,92.0 41.1,91.9" stroke="#838383" stroke-width="2.21" fill="none" stroke-linecap="round"/>
<path d="M41.7,91.9 C42.8,91.8 46.0,91.4 48.2,91.3 C50.4,91.2 52.7,91.2 55.0,91.1 C57.2,90.9 59.5,90.6 61.7,90.5 C63.9,90.4 66.1,90.6 68.4,90.5 C70.7,90.4 73.5,90.1 75.4,90.0 C77.4,89.8 78.2,89.7 80.1,89.7 C82.1,89.8 85.0,90.4 87.2,90.4 C89.5,90.4 91.5,89.8 93.9,89.7 C96.2,89.6 98.9,89.9 101.2,89.9 C103.4,89.8 106.2,89.5 107.2,89.4" stroke="#c6c6c6" stroke-width="1.81" fill="none" stroke-linecap="round"/>
<path d="M108.5,88.9 C109.5,88.9 112.4,89.2 114.7,89.3 C117.1,89.3 120.1,89.0 122.4,88.9 C124.7,88.9 127.2,89.1 128.5,89.1 C129.8,89.0 129.9,88.8 130.2,88.7" stroke="#8e8e8e" stroke-width="1.94" fill="none" stroke-linecap="round"/>
<path d="M132.4,88.2 C133.3,88.2 135.8,88.5 138.0,88.6 C140.2,88.7 144.4,88.8 145.7,88.7 C147.1,88.7 146.0,88.3 146.0,88.2" stroke="#8e8e8e" stroke-width="1.93" fill="none" stroke-linecap="round"/>
<path d="M19.2,98.0 C20.3,97.8 23.5,97.5 25.9,97.1 C28.3,96.8 31.4,96.2 33.8,95.9 C36.1,95.6 38.9,95.5 39.9,95.4" stroke="#838383" stroke-width="1.70" fill="none" stroke-linecap="round"/>
<path d="M40.5,95.2 C41.6,95.2 45.4,95.1 47.5,95.0 C49.5,94.9 50.9,94.8 52.9,94.6 C55.0,94.4 57.4,94.0 59.7,93.8 C62.0,93.7 64.5,93.8 66.7,93.8 C69.0,93.7 70.8,93.7 73.0,93.8 C75.1,93.8 77.3,94.1 79.7,94.0 C82.0,93.8 85.8,93.0 87.3,92.9 C88.9,92.8 88.7,93.2 88.9,93.3" stroke="#838383" stroke-width="1.65" fill="none" stroke-linecap="round"/>
<path d="M91.6,92.8 C92.5,92.9 95.2,93.2 96.9,93.3 C98.5,93.4 99.8,93.4 101.6,93.3 C103.3,93.1 105.6,92.4 107.5,92.3 C109.4,92.2 111.1,92.6 113.0,92.7 C114.8,92.7 117.0,92.6 118.7,92.6 C120.4,92.6 121.6,92.6 123.3,92.6 C125.0,92.5 126.8,92.4 128.8,92.2 C130.8,92.1 133.3,91.9 135.3,91.8 C137.3,91.8 139.0,92.1 140.8,92.0 C142.6,92.0 145.1,91.7 146.0,91.6" stroke="#838383" stroke-width="2.23" fill="none" stroke-linecap="round"/>
<path d="M17.0,102.2 C17.9,102.0 20.1,101.5 22.3,101.2 C24.5,100.9 27.8,100.6 30.2,100.2 C32.6,99.8 34.6,99.0 36.6,98.7 C38.6,98.4 40.5,98.6 42.3,98.5 C44.2,98.3 45.9,97.9 47.8,97.8 C49.8,97.7 52.0,97.9 54.2,97.8 C56.5,97.7 59.6,97.1 61.5,97.0 C63.3,96.8 63.9,96.8 65.5,96.8 C67.1,96.8 70.1,97.0 71.2,97.0 C72.3,97.0 72.0,96.9 72.1,96.9" stroke="#838383" stroke-width="2.31" fill="none" stroke-linecap="round"/>
<path d="M72.7,97.2 C73.8,97.1 76.7,96.5 79.0,96.4 C81.3,96.3 84.1,96.7 86.4,96.7 C88.8,96.8 91.2,96.8 93.2,96.6 C95.2,96.5 96.6,95.7 98.6,95.7 C100.5,95.6 102.9,96.1 104.8,96.2 C106.6,96.2 107.5,96.1 109.6,96.0 C111.7,95.8 114.9,95.3 117.3,95.2 C119.7,95.2 121.7,95.6 123.7,95.5 C125.8,95.4 128.0,94.9 129.6,94.8 C131.2,94.8 132.7,95.0 133.3,95.0" stroke="#ababab" stroke-width="2.20" fill="none" stroke-linecap="round"/>
<path d="M135.8,95.0 C136.7,94.9 139.5,94.4 141.2,94.3 C142.9,94.3 145.2,94.6 146.0,94.6" stroke="#8e8e8e" stroke-width="2.02" fill="none" stroke-linecap="round"/>
<path d="M56,13 L72,9 L92,9 L102,13 L94,18 L74,20 L58,19 Z" fill="#9c9c9c"/>
<path d="M74,10 L90,10 L96,13 L84,15 Z" fill="#b8b8b8"/>
<ellipse cx="128.2" cy="25.8" rx="1.6" ry="1.0" transform="rotate(-25 128.2 25.8)" fill="#e6e6e6"/>
<ellipse cx="123.6" cy="57.7" rx="3.0" ry="1.8" transform="rotate(-48 123.6 57.7)" fill="#2a2a2a"/>
<ellipse cx="141.5" cy="51.4" rx="2.1" ry="1.4" transform="rotate(-56 141.5 51.4)" fill="#d4d4d4"/>
<ellipse cx="122.1" cy="10.7" rx="2.4" ry="0.8" transform="rotate(-58 122.1 10.7)" fill="#b0b0b0"/>
<ellipse cx="143.7" cy="84.2" rx="2.5" ry="1.1" transform="rotate(-14 143.7 84.2)" fill="#2a2a2a"/>
<ellipse cx="121.0" cy="16.5" rx="3.0" ry="1.8" transform="rotate(-12 121.0 16.5)" fill="#2a2a2a"/>
<ellipse cx="120.1" cy="11.3" rx="3.5" ry="1.3" transform="rotate(-59 120.1 11.3)" fill="#e6e6e6"/>
<ellipse cx="113.1" cy="40.5" rx="2.3" ry="1.9" transform="rotate(-15 113.1 40.5)" fill="#3a3a3a"/>
<ellipse cx="114.1" cy="60.6" rx="3.3" ry="1.6" transform="rotate(-56 114.1 60.6)" fill="#2a2a2a"/>
<ellipse cx="122.2" cy="28.5" rx="3.4" ry="1.6" transform="rotate(-40 122.2 28.5)" fill="#d4d4d4"/>
<ellipse cx="126.3" cy="22.1" rx="3.5" ry="1.1" transform="rotate(-58 126.3 22.1)" fill="#e6e6e6"/>
<ellipse cx="120.2" cy="39.0" rx="3.3" ry="1.8" transform="rotate(-58 120.2 39.0)" fill="#c4c4c4"/>
<ellipse cx="137.2" cy="70.4" rx="3.0" ry="1.4" transform="rotate(-55 137.2 70.4)" fill="#3a3a3a"/>
<ellipse cx="122.2" cy="8.5" rx="2.8" ry="1.2" transform="rotate(-30 122.2 8.5)" fill="#e6e6e6"/>
<ellipse cx="136.3" cy="17.3" rx="2.1" ry="1.3" transform="rotate(-41 136.3 17.3)" fill="#b0b0b0"/>
<ellipse cx="124.1" cy="46.8" rx="3.3" ry="1.9" transform="rotate(-37 124.1 46.8)" fill="#e6e6e6"/>
<ellipse cx="141.2" cy="78.3" rx="3.3" ry="1.1" transform="rotate(-13 141.2 78.3)" fill="#e6e6e6"/>
<ellipse cx="139.7" cy="86.2" rx="3.0" ry="1.9" transform="rotate(-14 139.7 86.2)" fill="#e6e6e6"/>
<ellipse cx="124.3" cy="9.9" rx="2.2" ry="1.2" transform="rotate(-19 124.3 9.9)" fill="#d4d4d4"/>
<ellipse cx="127.3" cy="63.3" rx="2.0" ry="1.7" transform="rotate(-51 127.3 63.3)" fill="#e6e6e6"/>
<ellipse cx="126.4" cy="86.3" rx="3.2" ry="1.1" transform="rotate(-39 126.4 86.3)" fill="#2a2a2a"/>
<ellipse cx="117.0" cy="31.9" rx="2.0" ry="1.0" transform="rotate(-35 117.0 31.9)" fill="#b0b0b0"/>
<ellipse cx="122.2" cy="87.5" rx="1.6" ry="1.4" transform="rotate(-28 122.2 87.5)" fill="#d4d4d4"/>
<ellipse cx="137.2" cy="89.4" rx="2.3" ry="1.1" transform="rotate(-47 137.2 89.4)" fill="#c4c4c4"/>
<ellipse cx="118.5" cy="40.1" rx="3.5" ry="1.9" transform="rotate(-55 118.5 40.1)" fill="#b0b0b0"/>
<ellipse cx="121.3" cy="86.9" rx="3.1" ry="2.0" transform="rotate(-53 121.3 86.9)" fill="#d4d4d4"/>
<ellipse cx="132.5" cy="46.9" rx="2.0" ry="1.0" transform="rotate(-60 132.5 46.9)" fill="#c4c4c4"/>
<ellipse cx="138.6" cy="54.3" rx="2.0" ry="0.8" transform="rotate(-40 138.6 54.3)" fill="#e6e6e6"/>
<ellipse cx="120.9" cy="23.9" rx="2.4" ry="1.1" transform="rotate(-51 120.9 23.9)" fill="#e6e6e6"/>
<ellipse cx="131.2" cy="80.9" rx="2.9" ry="1.7" transform="rotate(-51 131.2 80.9)" fill="#c4c4c4"/>
<ellipse cx="116.4" cy="67.0" rx="3.1" ry="1.5" transform="rotate(-50 116.4 67.0)" fill="#3a3a3a"/>
<ellipse cx="114.1" cy="72.5" rx="3.1" ry="1.9" transform="rotate(-34 114.1 72.5)" fill="#2a2a2a"/>
<ellipse cx="123.1" cy="32.8" rx="3.2" ry="1.4" transform="rotate(-59 123.1 32.8)" fill="#3a3a3a"/>
<ellipse cx="141.1" cy="49.9" rx="1.8" ry="1.0" transform="rotate(-18 141.1 49.9)" fill="#3a3a3a"/>
<ellipse cx="123.7" cy="22.4" rx="2.5" ry="1.8" transform="rotate(-42 123.7 22.4)" fill="#b0b0b0"/>
<ellipse cx="141.8" cy="93.2" rx="1.5" ry="1.7" transform="rotate(-19 141.8 93.2)" fill="#d4d4d4"/>
<ellipse cx="139.7" cy="36.2" rx="3.2" ry="1.5" transform="rotate(-15 139.7 36.2)" fill="#3a3a3a"/>
<ellipse cx="121.3" cy="17.5" rx="2.3" ry="1.4" transform="rotate(-33 121.3 17.5)" fill="#3a3a3a"/>
<ellipse cx="129.2" cy="9.8" rx="1.7" ry="1.0" transform="rotate(-55 129.2 9.8)" fill="#d4d4d4"/>
<ellipse cx="120.0" cy="79.9" rx="1.2" ry="1.9" transform="rotate(-23 120.0 79.9)" fill="#d4d4d4"/>
<path d="M97,44 L109,42 L112,82 L103,86 Z" fill="#101010" opacity="0.42"/>
<path d="M108.8,92.9 Q114.9,77.6 129.2,67.4" stroke="#bdbdbd" stroke-width="1.3" fill="none"/>
<path d="M104.7,93.7 Q111.0,81.4 125.8,73.2" stroke="#bdbdbd" stroke-width="1.1" fill="none"/>
<path d="M117.2,91.0 Q121.8,78.2 132.3,69.6" stroke="#bdbdbd" stroke-width="1.2" fill="none"/>
<path d="M107.9,77.7 Q114.1,62.3 128.6,52.1" stroke="#d2d2d2" stroke-width="1.0" fill="none"/>
<path d="M123.5,95.4 Q128.8,80.4 141.4,70.4" stroke="#a8a8a8" stroke-width="1.2" fill="none"/>
<path d="M112.3,95.5 Q118.8,81.1 134.1,71.5" stroke="#bdbdbd" stroke-width="1.3" fill="none"/>
<path d="M120.6,93.1 Q126.5,74.0 140.2,61.2" stroke="#d2d2d2" stroke-width="1.3" fill="none"/>
<path d="M124.0,73.3 Q129.8,54.4 143.2,41.8" stroke="#d2d2d2" stroke-width="1.0" fill="none"/>
<path d="M113.0,87.8 Q118.3,72.0 130.6,61.4" stroke="#bdbdbd" stroke-width="1.1" fill="none"/>
<path d="M107.2,88.7 Q112.1,73.7 123.5,63.7" stroke="#d2d2d2" stroke-width="1.3" fill="none"/>
<path d="M126.4,87.8 Q133.0,69.5 148.5,57.2" stroke="#bdbdbd" stroke-width="0.9" fill="none"/>
<path d="M118.7,78.6 Q124.9,64.7 139.5,55.4" stroke="#a8a8a8" stroke-width="1.3" fill="none"/>
<path d="M102.9,74.5 Q107.5,62.4 118.1,54.3" stroke="#bdbdbd" stroke-width="1.4" fill="none"/>
<path d="M109.5,79.6 Q115.6,66.8 130.0,58.2" stroke="#a8a8a8" stroke-width="1.4" fill="none"/>
<path d="M128,6 L145,6 L145,26 L134,24 Z" fill="#9a9a9a"/>
<circle cx="82" cy="39" r="1.9" fill="#f4f4f4"/><circle cx="91" cy="39.5" r="1.7" fill="#eeeeee"/><circle cx="65" cy="44" r="1.2" fill="#e6e6e6"/><circle cx="79" cy="71" r="1.4" fill="#e6e6e6"/><circle cx="61" cy="94" r="1.6" fill="#e0e0e0"/><circle cx="110" cy="88" r="1.3" fill="#ddd"/>
</g>
<path d="M44,99 L145,98 V104 H44 Z" fill="#232323"/>
<path d="M141,60 L145,56 V98 L141,98 Z" fill="#2a2a2a"/>
</g></g>
<clipPath id="cb"><path d="M26,148 H145 V248 H4 V170 H26 Z"/></clipPath>
<g clip-path="url(#cb)"><g filter="url(#bl)">
<rect x="0" y="140" width="150" height="110" fill="#5c5c5c"/>
<path d="M20,146 H100 L100,176 L20,176 Z" fill="#6e6e6e"/>
<path d="M24,148 L46,170" stroke="#9a9a9a" stroke-width="2.3"/>
<path d="M30,148 L52,170" stroke="#9a9a9a" stroke-width="1.8"/>
<path d="M36,148 L58,170" stroke="#5a5a5a" stroke-width="1.4"/>
<path d="M42,148 L64,170" stroke="#5a5a5a" stroke-width="1.8"/>
<path d="M48,148 L70,170" stroke="#5a5a5a" stroke-width="2.2"/>
<path d="M54,148 L76,170" stroke="#8e8e8e" stroke-width="1.8"/>
<path d="M60,148 L82,170" stroke="#8e8e8e" stroke-width="1.3"/>
<path d="M26,150 L31,150 L30,164 L26,166 Z" fill="#4a4a4a"/>
<path d="M52,150 Q62,146 80,148 Q96,151 97,162 Q95,172 80,174 Q66,172 60,166 Q54,160 52,150 Z" fill="#9a9a9a"/>
<path d="M56,152 Q70,148 86,152 Q94,156 95,166" stroke="#c4c4c4" stroke-width="1.5" fill="none"/>
<path d="M62,158 Q76,156 88,162" stroke="#b8b8b8" stroke-width="1.2" fill="none"/>
<path d="M64,166 Q76,170 92,170" stroke="#7a7a7a" stroke-width="1.2" fill="none"/>
<path d="M46,148 Q54,160 70,170" stroke="#b4b4b4" stroke-width="1.5" fill="none"/>
<path d="M94,148 H112 L104,166 L110,184 L100,186 L96,172 Z" fill="#666"/>
<path d="M88,172 L100,170 L104,184 L92,188 Z" fill="#505050"/>
<path d="M106,148 H145 V194 L122,192 L112,178 L104,170 Z" fill="#737373"/>
<path d="M104,171 L112,160 L119,148" stroke="#bcbcbc" stroke-width="1.5" fill="none"/>
<path d="M105,172 L114,182 L124,190 L140,193" stroke="#a8a8a8" stroke-width="1.3" fill="none"/>
<path d="M128,150 Q134,162 132,178" stroke="#888" stroke-width="1" fill="none"/>
<path d="M138,148 H145 V194 H139 Z" fill="#8a8a8a"/>
<path d="M4,170 L30,168 L60,170 L80,173 L98,176 L104,182 L90,184 L60,184 L30,183 L4,182 Z" fill="#b2b2b2"/>
<path d="M8,174 L60,175 L95,179" stroke="#d6d6d6" stroke-width="1.2" fill="none"/>
<path d="M6,178 L50,179 L92,182" stroke="#8a8a8a" stroke-width="0.8" fill="none"/>
<clipPath id="lb"><path d="M4,181 L60,183 L100,185 L120,189 L140,193 L145,196 V214 L120,214 L100,217 L60,218 L30,220 L4,222 Z"/></clipPath>
<g clip-path="url(#lb)"><rect x="0" y="176" width="150" height="50" fill="#363636"/>
<path d="M6.4,180.9 C7.5,181.0 11.1,181.0 13.3,181.0 C15.6,181.1 18.0,181.2 19.8,181.1 C21.6,181.0 22.1,180.5 24.1,180.5 C26.0,180.4 29.2,180.9 31.6,180.9 C34.0,181.0 36.5,180.8 38.7,180.7 C41.0,180.7 43.3,180.7 45.1,180.7 C46.8,180.8 48.5,181.0 49.2,181.0" stroke="#a2a2a2" stroke-width="1.28" fill="none" stroke-linecap="round"/>
<path d="M49.7,180.9 C51.1,181.0 55.2,181.5 57.7,181.7 C60.3,181.8 63.0,181.7 65.1,181.7 C67.2,181.7 68.6,181.6 70.3,181.6 C72.1,181.6 73.5,181.6 75.5,181.7 C77.5,181.9 80.1,182.3 82.6,182.5 C85.0,182.7 87.8,182.8 89.9,183.0 C92.1,183.2 94.4,183.5 95.3,183.6" stroke="#a2a2a2" stroke-width="1.61" fill="none" stroke-linecap="round"/>
<path d="M95.8,183.2 C96.7,183.4 99.4,184.0 101.3,184.3 C103.2,184.5 105.2,184.5 107.0,184.7 C108.7,184.9 110.1,185.2 111.8,185.3 C113.5,185.5 115.6,185.5 117.1,185.6 C118.7,185.8 119.2,185.9 121.2,186.2 C123.1,186.4 126.5,186.6 128.9,186.8 C131.3,187.1 133.6,187.3 135.7,187.6 C137.8,187.9 140.0,188.4 141.6,188.7 C143.1,188.9 144.4,189.1 145.0,189.1" stroke="#b8b8b8" stroke-width="1.21" fill="none" stroke-linecap="round"/>
<path d="M6.6,183.8 C7.4,183.7 9.3,183.5 11.4,183.6 C13.5,183.6 17.1,183.9 19.3,183.9 C21.5,184.0 22.9,184.0 24.5,183.9 C26.2,183.9 27.3,183.6 29.4,183.5 C31.4,183.5 35.5,183.7 36.8,183.7 C38.0,183.7 36.8,183.6 36.8,183.6" stroke="#cacaca" stroke-width="1.69" fill="none" stroke-linecap="round"/>
<path d="M37.9,183.7 C39.1,183.7 43.2,183.6 45.2,183.6 C47.1,183.5 47.7,183.5 49.5,183.5 C51.3,183.5 54.0,183.4 56.0,183.5 C58.0,183.6 60.3,184.0 61.5,184.1 C62.7,184.2 63.0,184.1 63.3,184.1" stroke="#8e8e8e" stroke-width="1.45" fill="none" stroke-linecap="round"/>
<path d="M65.9,183.9 C66.6,184.0 68.5,184.6 70.5,184.7 C72.5,184.8 75.7,184.4 77.8,184.5 C79.8,184.6 80.4,185.0 82.5,185.2 C84.6,185.3 87.7,185.0 90.3,185.2 C92.9,185.4 95.7,186.2 98.1,186.4 C100.4,186.6 102.7,186.5 104.5,186.6 C106.3,186.6 106.9,186.5 108.9,186.7 C110.9,186.8 114.3,187.3 116.8,187.6 C119.2,187.8 121.4,188.0 123.6,188.3 C125.8,188.5 128.8,189.0 129.9,189.2" stroke="#b8b8b8" stroke-width="1.46" fill="none" stroke-linecap="round"/>
<path d="M131.1,189.7 C131.8,189.7 133.7,189.6 135.6,189.8 C137.4,189.9 140.6,190.4 142.2,190.6 C143.8,190.8 144.5,190.8 145.0,190.8" stroke="#b8b8b8" stroke-width="1.23" fill="none" stroke-linecap="round"/>
<path d="M5.1,186.3 C5.9,186.4 7.9,186.5 9.8,186.5 C11.6,186.5 14.1,186.2 16.1,186.2 C18.0,186.3 19.3,186.7 21.5,186.8 C23.7,186.8 27.0,186.5 29.4,186.5 C31.9,186.4 34.3,186.5 36.2,186.4 C38.1,186.3 39.3,185.9 40.8,186.0 C42.2,186.0 43.3,186.6 44.8,186.7 C46.4,186.7 49.3,186.4 50.1,186.4" stroke="#a2a2a2" stroke-width="1.68" fill="none" stroke-linecap="round"/>
<path d="M50.7,186.6 C51.6,186.6 54.4,186.9 56.0,186.9 C57.6,186.9 58.4,186.6 60.3,186.6 C62.1,186.6 64.9,187.0 67.2,187.1 C69.5,187.2 71.8,187.1 74.2,187.2 C76.5,187.3 79.2,187.6 81.3,187.7 C83.4,187.8 84.6,187.7 86.7,187.8 C88.9,187.9 92.6,188.3 94.3,188.4 C96.1,188.5 96.9,188.3 97.4,188.3" stroke="#a2a2a2" stroke-width="1.57" fill="none" stroke-linecap="round"/>
<path d="M100.0,188.6 C101.0,188.6 103.9,188.5 105.6,188.5 C107.2,188.6 108.4,188.8 109.9,188.9 C111.3,189.1 112.6,189.3 114.3,189.4 C116.0,189.6 118.1,189.8 120.0,190.0 C121.9,190.2 124.7,190.5 125.7,190.7" stroke="#7a7a7a" stroke-width="1.52" fill="none" stroke-linecap="round"/>
<path d="M127.3,190.5 C128.5,190.6 132.1,190.8 134.3,191.1 C136.6,191.4 139.0,191.9 140.8,192.1 C142.5,192.3 144.3,192.5 145.0,192.5" stroke="#cacaca" stroke-width="1.52" fill="none" stroke-linecap="round"/>
<path d="M5.0,189.4 C6.1,189.4 9.8,189.1 11.7,189.2 C13.6,189.2 14.5,189.7 16.4,189.7 C18.3,189.7 20.7,189.3 23.1,189.2 C25.4,189.1 29.3,189.1 30.5,189.1" stroke="#cacaca" stroke-width="1.30" fill="none" stroke-linecap="round"/>
<path d="M32.7,189.3 C33.9,189.2 37.7,188.9 39.7,188.8 C41.7,188.7 42.5,188.8 44.6,188.8 C46.7,188.8 50.2,188.8 52.3,188.8 C54.3,188.9 54.8,189.0 56.8,189.0 C58.8,189.0 62.4,188.8 64.4,188.9 C66.3,189.0 66.7,189.7 68.6,189.7 C70.6,189.8 73.7,189.2 75.9,189.3 C78.1,189.3 80.1,190.0 81.8,190.1 C83.5,190.3 85.5,190.0 86.2,190.0" stroke="#b8b8b8" stroke-width="1.33" fill="none" stroke-linecap="round"/>
<path d="M88.0,190.3 C89.1,190.3 92.2,190.2 94.5,190.3 C96.8,190.3 99.6,190.5 101.8,190.7 C104.1,190.9 106.4,191.3 108.3,191.4 C110.2,191.6 111.4,191.4 113.4,191.5 C115.4,191.7 117.8,192.0 120.0,192.2 C122.2,192.4 124.7,192.4 126.6,192.6 C128.5,192.8 129.7,193.1 131.3,193.3 C133.0,193.5 134.3,193.5 136.4,193.7 C138.4,193.9 142.1,194.4 143.6,194.5 C145.0,194.6 144.8,194.3 145.0,194.2" stroke="#8e8e8e" stroke-width="1.17" fill="none" stroke-linecap="round"/>
<path d="M6.7,192.3 C7.5,192.3 9.7,191.9 11.5,191.9 C13.2,191.9 15.6,192.3 17.3,192.3 C19.1,192.3 20.4,191.9 22.1,191.8 C23.7,191.8 25.5,192.1 27.4,192.1 C29.4,192.1 31.3,192.0 33.5,191.9 C35.7,191.9 39.3,191.7 40.5,191.7 C41.7,191.6 40.7,191.7 40.7,191.8" stroke="#a2a2a2" stroke-width="1.64" fill="none" stroke-linecap="round"/>
<path d="M41.4,191.7 C42.5,191.8 45.9,192.0 47.9,192.0 C49.9,192.1 51.3,191.8 53.4,191.8 C55.6,191.8 58.4,192.0 61.0,192.0 C63.5,192.0 66.8,191.9 68.7,191.9 C70.6,191.8 71.7,191.9 72.3,192.0" stroke="#cacaca" stroke-width="1.22" fill="none" stroke-linecap="round"/>
<path d="M74.6,192.3 C75.9,192.4 80.2,192.6 82.5,192.6 C84.8,192.7 86.7,192.6 88.6,192.7 C90.6,192.8 91.8,193.0 93.9,193.0 C96.0,193.1 99.4,192.9 101.4,192.9 C103.3,193.0 104.4,193.2 105.7,193.2 C107.0,193.3 108.6,193.5 109.2,193.5" stroke="#a2a2a2" stroke-width="1.56" fill="none" stroke-linecap="round"/>
<path d="M110.9,193.9 C111.8,193.8 114.6,193.5 116.6,193.6 C118.6,193.7 120.4,194.3 122.7,194.5 C125.0,194.7 127.8,194.6 130.4,194.9 C133.0,195.1 136.1,195.6 138.4,195.8 C140.8,196.0 143.4,196.0 144.5,196.0 C145.6,196.1 144.9,195.9 145.0,195.9" stroke="#a2a2a2" stroke-width="1.63" fill="none" stroke-linecap="round"/>
<path d="M5.8,195.5 C6.8,195.4 10.0,194.8 12.0,194.8 C14.1,194.8 16.2,195.2 18.1,195.2 C19.9,195.3 20.9,195.0 23.1,194.9 C25.2,194.9 28.5,195.0 30.9,194.9 C33.3,194.8 35.5,194.4 37.3,194.4 C39.2,194.3 40.3,194.5 41.9,194.5 C43.5,194.5 45.2,194.5 47.0,194.4 C48.8,194.3 51.2,194.1 52.6,194.1 C54.1,194.1 55.4,194.3 55.9,194.4" stroke="#b8b8b8" stroke-width="1.33" fill="none" stroke-linecap="round"/>
<path d="M57.7,194.3 C58.9,194.3 62.8,194.4 65.0,194.4 C67.1,194.5 69.2,194.6 70.9,194.6 C72.6,194.6 73.5,194.5 75.2,194.6 C76.8,194.6 78.6,195.0 80.8,195.0 C83.1,195.0 86.3,194.7 88.5,194.7 C90.8,194.6 92.5,194.6 94.4,194.7 C96.4,194.9 98.2,195.4 100.2,195.5 C102.1,195.6 105.0,195.5 106.0,195.5" stroke="#a2a2a2" stroke-width="1.39" fill="none" stroke-linecap="round"/>
<path d="M107.3,195.2 C108.1,195.3 110.1,195.8 112.3,196.0 C114.5,196.1 118.1,195.8 120.2,195.8 C122.3,195.8 123.2,195.9 124.8,196.1 C126.5,196.2 128.3,196.8 130.0,196.9 C131.7,197.1 133.1,196.9 134.9,197.0 C136.8,197.1 139.3,197.4 140.9,197.5 C142.6,197.6 144.3,197.6 145.0,197.6" stroke="#b8b8b8" stroke-width="1.47" fill="none" stroke-linecap="round"/>
<path d="M4.1,198.4 C5.2,198.3 8.2,198.1 10.6,198.0 C12.9,197.9 16.0,197.9 18.0,197.8 C20.1,197.7 21.0,197.4 22.9,197.4 C24.7,197.3 27.3,197.5 29.1,197.5 C30.8,197.6 31.8,197.7 33.6,197.7 C35.4,197.6 38.2,197.2 40.1,197.1 C42.0,197.0 42.8,197.2 44.8,197.2 C46.9,197.1 50.3,196.8 52.4,196.8 C54.5,196.7 56.7,196.9 57.6,197.0" stroke="#cacaca" stroke-width="1.22" fill="none" stroke-linecap="round"/>
<path d="M58.3,196.6 C59.2,196.7 61.7,196.8 63.9,196.9 C66.1,197.0 69.2,197.0 71.6,197.0 C74.1,197.0 76.2,196.7 78.5,196.8 C80.7,196.9 83.2,197.3 85.0,197.4 C86.8,197.5 88.6,197.3 89.3,197.2" stroke="#b8b8b8" stroke-width="1.44" fill="none" stroke-linecap="round"/>
<path d="M90.7,197.3 C91.9,197.3 95.4,197.4 97.7,197.4 C100.0,197.5 102.6,197.4 104.5,197.4 C106.3,197.4 107.3,197.4 108.7,197.5 C110.1,197.6 111.2,197.8 112.9,198.0 C114.6,198.1 117.6,198.2 118.9,198.2 C120.3,198.3 120.6,198.2 120.9,198.2" stroke="#8e8e8e" stroke-width="1.21" fill="none" stroke-linecap="round"/>
<path d="M121.9,198.6 C122.6,198.5 124.2,198.1 126.3,198.1 C128.3,198.2 131.6,198.6 134.1,198.8 C136.5,198.9 139.3,198.9 141.1,199.0 C142.9,199.1 144.4,199.3 145.0,199.3" stroke="#b8b8b8" stroke-width="1.41" fill="none" stroke-linecap="round"/>
<path d="M4.1,201.3 C4.8,201.2 6.8,200.9 8.8,200.8 C10.7,200.7 13.8,200.6 15.7,200.5 C17.7,200.4 18.7,200.3 20.5,200.2 C22.3,200.1 24.3,199.9 26.6,199.9 C28.8,199.9 31.7,200.3 34.1,200.3 C36.5,200.4 38.7,200.3 41.0,200.2 C43.2,200.1 45.3,199.8 47.5,199.7 C49.6,199.6 51.7,199.7 53.9,199.7 C56.1,199.6 59.5,199.6 60.6,199.6" stroke="#8e8e8e" stroke-width="1.58" fill="none" stroke-linecap="round"/>
<path d="M61.7,199.8 C63.0,199.7 66.5,199.4 69.0,199.4 C71.5,199.4 74.2,199.8 76.6,199.8 C79.0,199.9 81.1,199.8 83.4,199.7 C85.7,199.7 88.1,199.6 90.4,199.5 C92.8,199.5 95.3,199.3 97.3,199.4 C99.4,199.4 101.1,199.7 102.7,199.8 C104.3,199.8 105.0,199.7 106.7,199.8 C108.5,199.8 111.4,200.0 113.3,200.1 C115.2,200.3 117.1,200.5 118.2,200.5 C119.4,200.6 119.9,200.3 120.2,200.2" stroke="#a2a2a2" stroke-width="1.30" fill="none" stroke-linecap="round"/>
<path d="M122.4,200.0 C123.4,200.0 126.6,200.4 128.5,200.5 C130.3,200.5 131.6,200.3 133.3,200.3 C135.0,200.4 137.2,200.8 138.9,200.9 C140.6,200.9 142.3,200.6 143.3,200.7 C144.4,200.7 144.7,201.0 145.0,201.0" stroke="#7a7a7a" stroke-width="1.37" fill="none" stroke-linecap="round"/>
<path d="M4.0,203.7 C4.9,203.7 7.6,203.7 9.4,203.7 C11.2,203.7 12.9,203.6 15.1,203.5 C17.2,203.3 20.3,202.9 22.5,202.9 C24.6,202.8 26.2,203.1 28.2,203.1 C30.2,203.1 32.4,203.0 34.4,202.9 C36.5,202.8 39.6,202.7 40.7,202.6" stroke="#cacaca" stroke-width="1.33" fill="none" stroke-linecap="round"/>
<path d="M43.5,202.3 C44.5,202.3 47.8,202.4 49.5,202.5 C51.2,202.5 52.1,202.7 53.7,202.7 C55.4,202.6 57.4,202.3 59.4,202.2 C61.4,202.1 63.9,202.0 65.8,202.0 C67.7,202.0 69.1,202.2 71.0,202.2 C72.9,202.1 75.0,201.9 77.2,201.8 C79.4,201.7 82.2,201.8 84.1,201.8 C85.9,201.8 87.2,201.7 88.1,201.7 C89.1,201.8 89.5,201.9 89.8,202.0" stroke="#cacaca" stroke-width="1.19" fill="none" stroke-linecap="round"/>
<path d="M92.1,201.8 C93.1,201.8 95.7,202.0 97.7,202.0 C99.8,202.1 102.3,201.9 104.6,201.9 C107.0,201.9 109.5,201.9 111.8,201.9 C114.2,201.9 117.4,202.0 118.7,202.0 C120.0,202.1 119.4,202.2 119.5,202.2" stroke="#cacaca" stroke-width="1.13" fill="none" stroke-linecap="round"/>
<path d="M120.3,202.6 C121.1,202.6 123.7,202.6 125.2,202.5 C126.8,202.5 128.0,202.3 129.4,202.4 C130.9,202.4 132.3,202.8 133.9,202.8 C135.6,202.8 137.5,202.4 139.3,202.3 C141.2,202.3 143.9,202.4 144.8,202.4 C145.7,202.5 145.0,202.7 145.0,202.7" stroke="#cacaca" stroke-width="1.46" fill="none" stroke-linecap="round"/>
<path d="M7.1,207.0 C8.4,206.9 12.8,206.7 14.9,206.5 C17.0,206.3 17.8,205.8 19.9,205.8 C22.0,205.7 25.1,206.1 27.4,206.0 C29.8,206.0 32.0,205.5 33.9,205.4 C35.9,205.4 37.1,205.6 39.0,205.5 C40.9,205.5 43.2,205.3 45.3,205.3 C47.4,205.2 50.0,205.3 51.8,205.2 C53.6,205.1 55.3,204.9 56.0,204.9" stroke="#8e8e8e" stroke-width="1.25" fill="none" stroke-linecap="round"/>
<path d="M58.9,204.4 C59.7,204.5 61.5,204.5 63.2,204.5 C64.8,204.6 67.2,204.7 68.9,204.7 C70.6,204.7 71.8,204.6 73.3,204.5 C74.7,204.4 75.8,204.1 77.6,204.1 C79.4,204.1 82.1,204.4 84.3,204.4 C86.5,204.4 88.7,204.3 90.8,204.2 C92.9,204.1 94.9,204.0 96.7,204.0 C98.6,204.1 100.0,204.5 102.1,204.4 C104.2,204.4 107.5,203.9 109.5,203.9 C111.4,203.9 112.1,204.4 113.9,204.5 C115.8,204.6 118.8,204.5 120.4,204.5 C122.0,204.5 123.0,204.3 123.5,204.3" stroke="#b8b8b8" stroke-width="1.35" fill="none" stroke-linecap="round"/>
<path d="M124.6,204.4 C126.0,204.4 130.2,204.2 132.6,204.2 C135.0,204.2 136.7,204.5 138.8,204.6 C140.9,204.6 144.0,204.5 145.0,204.4" stroke="#b8b8b8" stroke-width="1.36" fill="none" stroke-linecap="round"/>
<path d="M7.5,209.1 C8.5,209.1 11.6,209.2 13.8,209.1 C15.9,209.1 18.2,208.8 20.5,208.7 C22.8,208.5 25.6,208.3 27.6,208.2 C29.6,208.2 31.0,208.5 32.5,208.5 C33.9,208.5 35.4,208.3 36.0,208.2" stroke="#cacaca" stroke-width="1.28" fill="none" stroke-linecap="round"/>
<path d="M38.3,207.8 C39.3,207.9 42.0,208.2 43.8,208.1 C45.6,208.0 47.2,207.5 49.2,207.4 C51.3,207.3 53.7,207.5 56.1,207.6 C58.5,207.6 61.2,207.7 63.8,207.6 C66.3,207.5 69.4,207.1 71.4,207.0 C73.5,206.9 75.3,207.0 76.1,207.0" stroke="#8e8e8e" stroke-width="1.28" fill="none" stroke-linecap="round"/>
<path d="M77.4,207.1 C78.4,207.0 81.2,206.6 83.4,206.5 C85.7,206.3 88.4,206.2 90.8,206.3 C93.1,206.3 95.1,206.5 97.5,206.6 C99.8,206.7 102.5,206.7 104.6,206.6 C106.8,206.6 108.4,206.3 110.1,206.3 C111.8,206.3 113.2,206.5 114.7,206.4 C116.3,206.4 117.7,205.9 119.4,206.0 C121.2,206.0 123.1,206.5 125.3,206.5 C127.4,206.5 130.6,206.1 132.5,206.0 C134.4,205.9 135.2,205.9 136.7,205.9 C138.3,205.9 140.5,205.7 141.9,205.8 C143.3,205.8 144.5,206.1 145.0,206.1" stroke="#cacaca" stroke-width="1.35" fill="none" stroke-linecap="round"/>
<path d="M4.3,212.6 C5.6,212.5 9.6,211.9 11.9,211.7 C14.3,211.5 16.2,211.5 18.5,211.5 C20.7,211.4 23.5,211.6 25.5,211.5 C27.4,211.5 29.2,211.1 30.4,211.0 C31.7,210.9 32.6,211.1 33.0,211.1" stroke="#7a7a7a" stroke-width="1.41" fill="none" stroke-linecap="round"/>
<path d="M35.4,211.2 C36.3,211.1 38.9,210.5 40.8,210.5 C42.6,210.4 45.0,210.8 46.7,210.8 C48.4,210.7 49.6,210.5 51.0,210.4 C52.4,210.4 53.2,210.5 55.2,210.4 C57.2,210.3 61.1,209.9 63.1,209.8 C65.1,209.6 65.7,209.7 67.1,209.6 C68.5,209.6 70.0,209.6 71.5,209.6 C73.0,209.5 75.4,209.5 76.2,209.4" stroke="#cacaca" stroke-width="1.11" fill="none" stroke-linecap="round"/>
<path d="M77.6,209.3 C78.5,209.3 81.2,208.9 83.3,208.9 C85.4,208.9 88.2,209.5 90.2,209.4 C92.3,209.3 94.0,208.7 95.7,208.6 C97.5,208.5 98.9,208.6 100.6,208.7 C102.2,208.7 104.2,209.0 105.7,209.0 C107.3,208.9 108.5,208.4 110.0,208.4 C111.4,208.3 112.5,208.6 114.4,208.5 C116.4,208.5 119.6,208.1 121.5,208.0 C123.4,208.0 124.0,208.1 125.8,208.2 C127.5,208.2 130.4,208.5 132.1,208.4 C133.9,208.3 135.2,207.8 136.3,207.7 C137.4,207.6 138.3,207.9 138.7,208.0" stroke="#a2a2a2" stroke-width="1.23" fill="none" stroke-linecap="round"/>
<path d="M139.8,207.7 C140.6,207.7 143.7,207.7 144.5,207.7 C145.4,207.7 144.9,207.8 145.0,207.8" stroke="#cacaca" stroke-width="1.55" fill="none" stroke-linecap="round"/>
<path d="M5.9,215.5 C7.2,215.4 11.3,214.8 13.6,214.7 C15.9,214.6 17.7,215.0 19.8,214.9 C21.8,214.7 24.0,214.1 25.7,214.0 C27.4,213.9 28.0,214.4 29.9,214.4 C31.8,214.3 35.0,213.7 37.1,213.6 C39.2,213.4 41.7,213.4 42.6,213.4" stroke="#7a7a7a" stroke-width="1.41" fill="none" stroke-linecap="round"/>
<path d="M43.8,213.1 C44.5,213.1 46.3,213.1 47.9,213.1 C49.5,213.1 51.3,213.2 53.4,213.1 C55.4,213.1 58.3,212.8 60.2,212.7 C62.1,212.5 63.2,212.2 64.8,212.1 C66.5,212.0 68.0,212.0 70.1,212.0 C72.3,211.9 75.3,211.9 77.6,211.9 C79.9,211.9 82.2,212.1 84.1,212.0 C86.1,211.9 87.6,211.5 89.2,211.4 C90.8,211.3 92.4,211.5 93.8,211.4 C95.3,211.4 97.1,211.4 97.8,211.3 C98.6,211.3 98.3,211.1 98.4,211.1" stroke="#a2a2a2" stroke-width="1.59" fill="none" stroke-linecap="round"/>
<path d="M99.1,211.1 C100.4,211.0 104.7,211.0 106.7,210.9 C108.7,210.9 109.3,210.9 111.0,210.8 C112.8,210.7 115.5,210.6 117.2,210.4 C118.9,210.3 119.8,210.1 121.3,210.0 C122.7,210.0 124.1,210.3 126.0,210.3 C128.0,210.3 131.3,210.0 133.2,209.9 C135.0,209.8 135.6,209.7 137.3,209.7 C139.0,209.7 142.0,210.0 143.3,210.0 C144.6,209.9 144.7,209.6 145.0,209.5" stroke="#8e8e8e" stroke-width="1.29" fill="none" stroke-linecap="round"/>
<path d="M8.0,217.6 C8.7,217.6 10.5,217.4 12.3,217.4 C14.1,217.4 16.7,217.5 19.0,217.5 C21.2,217.4 24.0,217.3 25.9,217.2 C27.9,217.1 28.4,216.8 30.4,216.7 C32.4,216.6 35.7,216.6 37.9,216.5 C40.1,216.4 42.1,215.9 43.8,215.9 C45.5,215.8 46.3,216.0 48.2,216.0 C50.2,216.0 53.3,215.8 55.7,215.7 C58.0,215.6 61.3,215.5 62.5,215.4 C63.8,215.3 62.9,215.1 63.0,215.0" stroke="#8e8e8e" stroke-width="1.48" fill="none" stroke-linecap="round"/>
<path d="M65.9,215.1 C66.9,215.0 70.2,214.4 72.1,214.3 C73.9,214.1 75.3,214.3 76.8,214.3 C78.4,214.2 79.7,214.1 81.3,214.0 C82.9,213.9 84.4,214.0 86.4,213.9 C88.3,213.8 90.9,213.7 92.9,213.5 C94.9,213.4 96.5,213.2 98.5,213.0 C100.5,212.9 102.8,212.8 104.9,212.7 C107.1,212.6 109.6,212.6 111.5,212.5 C113.3,212.4 114.5,212.2 116.2,212.1 C118.0,212.1 120.4,212.5 122.1,212.4 C123.8,212.3 124.5,211.8 126.5,211.7 C128.4,211.6 132.6,211.7 133.8,211.7" stroke="#8e8e8e" stroke-width="1.36" fill="none" stroke-linecap="round"/>
<path d="M136.2,211.6 C137.2,211.6 140.8,211.5 142.3,211.5 C143.7,211.4 144.5,211.3 145.0,211.2" stroke="#8e8e8e" stroke-width="1.59" fill="none" stroke-linecap="round"/>
<path d="M6.5,220.9 C7.4,220.9 10.1,220.8 11.8,220.8 C13.5,220.7 14.9,220.8 16.7,220.7 C18.6,220.5 21.1,219.9 22.9,219.7 C24.7,219.5 25.9,219.6 27.6,219.5 C29.4,219.4 31.6,219.5 33.4,219.4 C35.1,219.3 36.5,219.1 38.2,218.9 C39.9,218.8 41.4,218.6 43.4,218.4 C45.4,218.3 48.1,218.3 50.2,218.2 C52.4,218.1 54.5,217.9 56.4,217.8 C58.2,217.8 60.0,217.9 61.3,217.8 C62.6,217.8 63.7,217.6 64.2,217.6" stroke="#cacaca" stroke-width="1.44" fill="none" stroke-linecap="round"/>
<path d="M65.2,217.7 C66.5,217.6 71.0,217.2 72.9,217.1 C74.9,217.0 75.2,217.1 77.1,217.0 C78.9,216.8 82.0,216.3 84.2,216.1 C86.3,216.0 88.2,216.1 90.1,216.0 C91.9,215.9 93.3,215.6 95.4,215.5 C97.5,215.3 100.4,215.3 102.9,215.2 C105.4,215.1 108.0,215.0 110.4,214.9 C112.8,214.7 115.1,214.4 117.3,214.3 C119.5,214.2 121.9,214.2 123.6,214.2 C125.4,214.2 126.4,214.3 127.9,214.3 C129.4,214.2 131.3,214.0 132.5,213.9 C133.8,213.7 134.7,213.6 135.1,213.5" stroke="#7a7a7a" stroke-width="1.30" fill="none" stroke-linecap="round"/>
<path d="M136.0,213.8 C136.8,213.7 139.5,213.4 141.0,213.2 C142.5,213.1 144.3,213.0 145.0,212.9" stroke="#a2a2a2" stroke-width="1.21" fill="none" stroke-linecap="round"/>
</g>
<path d="M70,192 L78,184 L81,186 L73,195 Z" fill="#d8d8d8"/>
<ellipse cx="113" cy="187" rx="3.2" ry="2.4" fill="#e4e4e4"/>
<path d="M14,204 Q30,214 50,215 Q80,212 100,214 L100,220 Q70,218 50,222 Q32,224 22,232 L16,220 Z" fill="#4a4a4a"/>
<path d="M14.0,206.0 Q30,214.0 52,215.0 T100,215.0" stroke="#b8b8b8" stroke-width="1.1" fill="none"/>
<path d="M15.5,208.8 Q32,217.3 54,217.5 T100,215.8" stroke="#a0a0a0" stroke-width="1.1" fill="none"/>
<path d="M17.0,211.6 Q34,220.6 56,220.0 T100,216.6" stroke="#b8b8b8" stroke-width="1.1" fill="none"/>
<path d="M18.5,214.4 Q36,223.9 58,222.5 T100,217.4" stroke="#a0a0a0" stroke-width="1.1" fill="none"/>
<path d="M20.0,217.2 Q38,227.2 60,225.0 T100,218.2" stroke="#8c8c8c" stroke-width="1.1" fill="none"/>
<path d="M21.5,220.0 Q40,230.5 62,227.5 T100,219.0" stroke="#a0a0a0" stroke-width="1.1" fill="none"/>
<path d="M36,228 Q60,216 100,216 Q118,222 126,232 L124,242 Q90,244 60,241 Q44,236 36,228 Z" fill="#282828"/>
<path d="M50,229 Q72,219 100,222 Q110,230 108,238 Q80,240 62,237 Q54,234 50,229 Z" fill="#1a1a1a"/>
<circle cx="50" cy="207" r="2.5" fill="#c8c8c8"/><circle cx="72" cy="201" r="2" fill="#bdbdbd"/>
<path d="M100,214 L130,214 L131,236 L120,232 Q110,220 100,214 Z" fill="#4a4a4a"/>
<path d="M102,217 L128,218" stroke="#7a7a7a" stroke-width="0.8" fill="none"/>
<path d="M102,220 L128,221" stroke="#7a7a7a" stroke-width="0.8" fill="none"/>
<path d="M102,223 L128,224" stroke="#7a7a7a" stroke-width="0.8" fill="none"/>
<path d="M4,238 Q60,236 145,240 V248 H4 Z" fill="#585858"/>
<path d="M20,240.5 Q70,238.5 130,241.5" stroke="#8a8a8a" stroke-width="0.9" fill="none"/>
<path d="M20,243 Q70,241 130,244" stroke="#8a8a8a" stroke-width="0.9" fill="none"/>
<path d="M20,245.5 Q70,243.5 130,246.5" stroke="#8a8a8a" stroke-width="0.9" fill="none"/>
<path d="M4,194 L10,196 L18,212 L24,232 L30,248 L4,248 Z" fill="#949494"/>
<path d="M7,198 L12,202 L20,226 L26,248 L19,248 L13,224 Z" fill="#b6b6b6"/>
<path d="M4,182 L9,183 L8,196 L4,196 Z" fill="#2e2e2e"/>
<rect x="131" y="215" width="15" height="23" fill="#858585" stroke="#dadada" stroke-width="0.8"/>
<path d="M134,226 L141,222" stroke="#eee" stroke-width="1.2"/>
<path d="M138,196 H145 V215 H138 Z" fill="#2c2c2c"/>
</g></g>
<line x1="145.5" y1="148" x2="145.5" y2="248" stroke="#c4c4c4" stroke-width="1"/>
<text x="9.7" y="19.4" class="pl" style="font-size:15px">a</text>
<text x="7.9" y="164" class="pl" style="font-size:17px">b</text>
<text x="150.5" y="18.6" class="pl" style="font-size:17px">c</text>
<text x="150.7" y="163.6" class="pl" style="font-size:17px">d</text>
<text x="338.3" y="41.4" class="pl" style="font-size:18px">e</text>
<!-- scale bars -->
<text x="119.3" y="98.5" style="font-size:11px" fill="#f4f4f4">1 μm</text>
<line x1="125" y1="102.1" x2="142" y2="102.1" stroke="#f4f4f4" stroke-width="1.3"/>
<text x="119.5" y="243.5" style="font-size:12.5px;letter-spacing:-1px" fill="#f0f0f0">1μm</text>
<line x1="123" y1="246" x2="143" y2="246" stroke="#f0f0f0" stroke-width="1.3"/>
<rect x="195" y="5" width="122.5" height="111" fill="none" stroke="#000" stroke-width="0.8"/>
<line x1="195" y1="8.7" x2="197.5" y2="8.7" stroke="#000" stroke-width="0.7"/>
<line x1="317.5" y1="8.7" x2="315.0" y2="8.7" stroke="#000" stroke-width="0.7"/>
<text x="191.3" y="11.2" class="tk" text-anchor="end">100</text>
<line x1="195" y1="29.0" x2="197.5" y2="29.0" stroke="#000" stroke-width="0.7"/>
<line x1="317.5" y1="29.0" x2="315.0" y2="29.0" stroke="#000" stroke-width="0.7"/>
<text x="191.3" y="31.5" class="tk" text-anchor="end">0</text>
<line x1="195" y1="49.3" x2="197.5" y2="49.3" stroke="#000" stroke-width="0.7"/>
<line x1="317.5" y1="49.3" x2="315.0" y2="49.3" stroke="#000" stroke-width="0.7"/>
<text x="191.3" y="51.8" class="tk" text-anchor="end">-100</text>
<line x1="195" y1="69.5" x2="197.5" y2="69.5" stroke="#000" stroke-width="0.7"/>
<line x1="317.5" y1="69.5" x2="315.0" y2="69.5" stroke="#000" stroke-width="0.7"/>
<text x="191.3" y="72.1" class="tk" text-anchor="end">-200</text>
<line x1="195" y1="89.8" x2="197.5" y2="89.8" stroke="#000" stroke-width="0.7"/>
<line x1="317.5" y1="89.8" x2="315.0" y2="89.8" stroke="#000" stroke-width="0.7"/>
<text x="191.3" y="92.4" class="tk" text-anchor="end">-300</text>
<line x1="195" y1="110.1" x2="197.5" y2="110.1" stroke="#000" stroke-width="0.7"/>
<line x1="317.5" y1="110.1" x2="315.0" y2="110.1" stroke="#000" stroke-width="0.7"/>
<text x="191.3" y="112.7" class="tk" text-anchor="end">-400</text>
<line x1="198.3" y1="116" x2="198.3" y2="113.5" stroke="#000" stroke-width="0.7"/>
<line x1="198.3" y1="5" x2="198.3" y2="7.5" stroke="#000" stroke-width="0.7"/>
<text x="198.3" y="124.1" class="tk" text-anchor="middle">0</text>
<line x1="218.1" y1="116" x2="218.1" y2="113.5" stroke="#000" stroke-width="0.7"/>
<line x1="218.1" y1="5" x2="218.1" y2="7.5" stroke="#000" stroke-width="0.7"/>
<text x="218.1" y="124.1" class="tk" text-anchor="middle">0.5</text>
<line x1="237.9" y1="116" x2="237.9" y2="113.5" stroke="#000" stroke-width="0.7"/>
<line x1="237.9" y1="5" x2="237.9" y2="7.5" stroke="#000" stroke-width="0.7"/>
<text x="237.9" y="124.1" class="tk" text-anchor="middle">1</text>
<line x1="257.7" y1="116" x2="257.7" y2="113.5" stroke="#000" stroke-width="0.7"/>
<line x1="257.7" y1="5" x2="257.7" y2="7.5" stroke="#000" stroke-width="0.7"/>
<text x="257.7" y="124.1" class="tk" text-anchor="middle">1.5</text>
<line x1="277.6" y1="116" x2="277.6" y2="113.5" stroke="#000" stroke-width="0.7"/>
<line x1="277.6" y1="5" x2="277.6" y2="7.5" stroke="#000" stroke-width="0.7"/>
<text x="277.6" y="124.1" class="tk" text-anchor="middle">2</text>
<line x1="297.4" y1="116" x2="297.4" y2="113.5" stroke="#000" stroke-width="0.7"/>
<line x1="297.4" y1="5" x2="297.4" y2="7.5" stroke="#000" stroke-width="0.7"/>
<text x="297.4" y="124.1" class="tk" text-anchor="middle">2.5</text>
<line x1="317.2" y1="116" x2="317.2" y2="113.5" stroke="#000" stroke-width="0.7"/>
<line x1="317.2" y1="5" x2="317.2" y2="7.5" stroke="#000" stroke-width="0.7"/>
<text x="317.2" y="124.1" class="tk" text-anchor="middle">3</text>
<text x="255.7" y="133" class="ax" text-anchor="middle">Potential (V vs Li/Li<tspan dy="-3.6" style="font-size:5.5px">+</tspan><tspan dy="3.6">)</tspan></text>
<text transform="translate(172.2,60.1) rotate(-90)" class="ax" text-anchor="middle">Specific Current (mA·g<tspan dy="-3" font-size="5.5">-1</tspan><tspan dy="3">)</tspan></text>
<path d="M198.5,77.0 C198.7,74.5 199.2,67.3 199.6,62.0 C200.0,56.7 200.5,49.8 200.8,45.0 C201.1,40.2 201.3,36.2 201.6,33.0 C201.8,29.8 202.0,27.9 202.3,26.0 C202.6,24.1 203.0,22.5 203.5,21.5 C204.0,20.5 204.4,20.5 205.5,20.0 C206.6,19.5 207.9,19.0 210.0,18.5 C212.1,18.0 216.0,17.5 218.0,17.0 C220.0,16.5 220.7,16.0 222.0,15.5 C223.3,15.0 224.7,14.1 226.0,14.0 C227.3,13.9 228.7,14.3 230.0,15.0 C231.3,15.7 232.8,17.6 234.0,18.3 C235.2,19.0 235.2,19.2 237.5,19.3 C239.8,19.4 244.6,18.8 248.0,18.6 C251.4,18.4 254.3,18.0 258.0,18.2 C261.7,18.4 265.8,19.1 270.0,19.6 C274.2,20.1 278.7,20.7 283.0,21.2 C287.3,21.7 292.3,22.4 296.0,22.8 C299.7,23.2 301.5,23.5 305.0,23.9 C308.5,24.3 316.2,24.4 317.0,25.0 C317.8,25.6 312.8,26.4 310.0,27.2 C307.2,27.9 303.3,28.8 300.0,29.5 C296.7,30.2 293.3,30.8 290.0,31.5 C286.7,32.2 283.3,33.2 280.0,34.0 C276.7,34.8 273.3,35.7 270.0,36.5 C266.7,37.3 265.0,38.1 260.0,38.6 C255.0,39.1 246.7,39.3 240.0,39.5 C233.3,39.7 224.5,39.5 220.0,39.8 C215.5,40.0 215.0,40.0 213.0,41.0 C211.0,42.0 209.3,43.8 208.0,46.0 C206.7,48.2 206.0,51.2 205.0,54.0 C204.0,56.8 202.9,59.8 202.0,63.0 C201.1,66.2 200.1,70.7 199.5,73.0 C198.9,75.3 198.7,76.3 198.5,77.0" fill="none" stroke="#f7931e" stroke-width="1.2" stroke-linejoin="round"/>
<path d="M198.5,88.0 C198.7,85.0 199.1,76.3 199.5,70.0 C199.9,63.7 200.5,55.8 200.8,50.0 C201.2,44.2 201.3,38.8 201.6,35.0 C201.8,31.2 202.0,29.2 202.3,27.0 C202.6,24.8 203.0,23.1 203.5,22.0 C204.0,20.9 204.4,21.1 205.5,20.5 C206.6,19.9 207.9,19.3 210.0,18.5 C212.1,17.7 216.0,16.3 218.0,15.5 C220.0,14.7 220.7,14.1 222.0,13.5 C223.3,12.9 224.8,12.1 226.0,12.0 C227.2,11.9 227.8,12.2 229.0,13.0 C230.2,13.8 231.2,15.7 233.0,16.5 C234.8,17.3 237.2,17.8 240.0,18.0 C242.8,18.2 247.0,17.6 250.0,17.5 C253.0,17.4 254.7,17.2 258.0,17.4 C261.3,17.6 265.8,18.3 270.0,18.8 C274.2,19.3 278.7,19.9 283.0,20.5 C287.3,21.1 292.3,21.8 296.0,22.3 C299.7,22.8 301.5,23.2 305.0,23.6 C308.5,24.1 316.2,24.3 317.0,25.0 C317.8,25.7 312.8,26.7 310.0,27.6 C307.2,28.5 303.3,29.6 300.0,30.3 C296.7,31.0 293.3,31.2 290.0,32.0 C286.7,32.8 283.3,34.1 280.0,35.0 C276.7,35.9 273.3,36.8 270.0,37.5 C266.7,38.2 265.0,38.7 260.0,39.4 C255.0,40.1 246.7,41.1 240.0,41.5 C233.3,41.9 224.3,41.6 220.0,42.0 C215.7,42.4 216.0,42.3 214.0,44.0 C212.0,45.7 209.5,49.3 208.0,52.0 C206.5,54.7 206.0,57.0 205.0,60.0 C204.0,63.0 202.9,66.3 202.0,70.0 C201.1,73.7 200.1,79.0 199.5,82.0 C198.9,85.0 198.7,87.0 198.5,88.0" fill="none" stroke="#e83fc8" stroke-width="1.2" stroke-linejoin="round"/>
<path d="M198.3,112.0 C198.4,108.3 198.7,97.8 199.0,90.0 C199.3,82.2 199.7,72.5 200.0,65.0 C200.3,57.5 200.7,50.5 201.0,45.0 C201.3,39.5 201.6,35.3 201.8,32.0 C202.1,28.7 202.2,26.8 202.5,25.0 C202.8,23.2 203.2,21.9 203.8,21.0 C204.4,20.1 205.3,19.9 206.0,19.5 C206.7,19.1 206.8,19.1 208.0,18.5 C209.2,17.9 211.3,16.9 213.0,16.0 C214.7,15.1 216.5,14.0 218.0,13.0 C219.5,12.0 220.7,10.8 222.0,10.0 C223.3,9.2 224.8,8.2 226.0,8.0 C227.2,7.8 228.0,8.2 229.0,9.0 C230.0,9.8 230.6,11.3 232.0,12.5 C233.4,13.7 234.8,15.5 237.5,16.0 C240.2,16.5 244.6,15.8 248.0,15.7 C251.4,15.6 254.2,15.0 258.0,15.4 C261.8,15.8 266.3,17.2 270.5,18.0 C274.7,18.8 280.1,19.3 283.3,19.9 C286.5,20.5 288.3,21.9 289.6,21.6 C290.9,21.3 290.8,18.1 291.3,18.2 C291.9,18.3 292.1,21.4 292.9,22.1 C293.7,22.8 294.8,22.4 296.0,22.6 C297.2,22.9 297.7,23.2 300.0,23.6 C302.3,24.0 307.2,24.7 310.0,25.0 C312.8,25.3 317.0,25.2 317.0,25.6 C317.0,26.0 312.8,26.7 310.0,27.5 C307.2,28.3 303.3,29.6 300.0,30.5 C296.7,31.4 294.5,31.7 290.0,32.6 C285.5,33.5 278.0,34.7 273.0,35.9 C268.0,37.1 263.0,38.6 260.0,40.0 C257.0,41.4 257.5,42.3 255.0,44.0 C252.5,45.7 247.5,48.5 245.0,50.0 C242.5,51.5 242.2,51.8 240.0,53.0 C237.8,54.2 234.0,56.0 232.0,57.0 C230.0,58.0 229.7,58.3 228.0,59.0 C226.3,59.7 223.7,61.0 222.0,61.0 C220.3,61.0 219.3,59.4 218.0,59.0 C216.7,58.6 215.3,58.2 214.0,58.5 C212.7,58.8 211.2,59.8 210.0,61.0 C208.8,62.2 208.0,63.7 207.0,66.0 C206.0,68.3 205.0,71.0 204.0,75.0 C203.0,79.0 201.8,85.0 201.0,90.0 C200.2,95.0 199.4,101.3 199.0,105.0 C198.6,108.7 198.4,110.8 198.3,112.0" fill="none" stroke="#111" stroke-width="1.2" stroke-linejoin="round"/>
<text x="223" y="32.9" class="lb" fill="#f58220">Cycle #5</text>
<line x1="224" y1="25" x2="225.6" y2="20" stroke="#f58220" stroke-width="1.1"/><path d="M226.4,17.4 L223.9,21 L227.6,21.8 Z" fill="#f58220"/>
<text x="261.2" y="70.9" class="lb" fill="#d63fb5">Cycle #2</text>
<line x1="261" y1="66.5" x2="237" y2="43.5" stroke="#a0308a" stroke-width="1"/><path d="M235,41.7 L236.5,46 L239.5,43 Z" fill="#a0308a"/>
<text x="224.8" y="82.7" class="lb" fill="#111">Cycle #1</text>
<line x1="237.3" y1="74.5" x2="233.9" y2="63.5" stroke="#111" stroke-width="1.1"/><path d="M233,60.3 L231.7,65 L235.6,64 Z" fill="#111"/>
<text x="271.6" y="108.8" class="rt">0.2 mV/s</text>
<rect x="193.8" y="139.5" width="127.59999999999997" height="113.5" fill="none" stroke="#000" stroke-width="0.8"/>
<line x1="193.8" y1="148.7" x2="196.3" y2="148.7" stroke="#000" stroke-width="0.7"/>
<line x1="321.4" y1="148.7" x2="318.9" y2="148.7" stroke="#000" stroke-width="0.7"/>
<text x="189.8" y="151.4" class="tk" text-anchor="end">50</text>
<line x1="193.8" y1="171.2" x2="196.3" y2="171.2" stroke="#000" stroke-width="0.7"/>
<line x1="321.4" y1="171.2" x2="318.9" y2="171.2" stroke="#000" stroke-width="0.7"/>
<text x="189.8" y="173.9" class="tk" text-anchor="end">0</text>
<line x1="193.8" y1="193.7" x2="196.3" y2="193.7" stroke="#000" stroke-width="0.7"/>
<line x1="321.4" y1="193.7" x2="318.9" y2="193.7" stroke="#000" stroke-width="0.7"/>
<text x="189.8" y="196.5" class="tk" text-anchor="end">-50</text>
<line x1="193.8" y1="216.2" x2="196.3" y2="216.2" stroke="#000" stroke-width="0.7"/>
<line x1="321.4" y1="216.2" x2="318.9" y2="216.2" stroke="#000" stroke-width="0.7"/>
<text x="189.8" y="219.0" class="tk" text-anchor="end">-100</text>
<line x1="193.8" y1="238.8" x2="196.3" y2="238.8" stroke="#000" stroke-width="0.7"/>
<line x1="321.4" y1="238.8" x2="318.9" y2="238.8" stroke="#000" stroke-width="0.7"/>
<text x="189.8" y="241.5" class="tk" text-anchor="end">-150</text>
<line x1="196.5" y1="253" x2="196.5" y2="250.5" stroke="#000" stroke-width="0.7"/>
<line x1="196.5" y1="139.5" x2="196.5" y2="142.0" stroke="#000" stroke-width="0.7"/>
<text x="196.5" y="261.4" class="tk" text-anchor="middle">0</text>
<line x1="213.8" y1="253" x2="213.8" y2="250.5" stroke="#000" stroke-width="0.7"/>
<line x1="213.8" y1="139.5" x2="213.8" y2="142.0" stroke="#000" stroke-width="0.7"/>
<text x="213.8" y="261.4" class="tk" text-anchor="middle">0.5</text>
<line x1="231.1" y1="253" x2="231.1" y2="250.5" stroke="#000" stroke-width="0.7"/>
<line x1="231.1" y1="139.5" x2="231.1" y2="142.0" stroke="#000" stroke-width="0.7"/>
<text x="231.1" y="261.4" class="tk" text-anchor="middle">1</text>
<line x1="248.4" y1="253" x2="248.4" y2="250.5" stroke="#000" stroke-width="0.7"/>
<line x1="248.4" y1="139.5" x2="248.4" y2="142.0" stroke="#000" stroke-width="0.7"/>
<text x="248.4" y="261.4" class="tk" text-anchor="middle">1.5</text>
<line x1="265.6" y1="253" x2="265.6" y2="250.5" stroke="#000" stroke-width="0.7"/>
<line x1="265.6" y1="139.5" x2="265.6" y2="142.0" stroke="#000" stroke-width="0.7"/>
<text x="265.6" y="261.4" class="tk" text-anchor="middle">2</text>
<line x1="282.9" y1="253" x2="282.9" y2="250.5" stroke="#000" stroke-width="0.7"/>
<line x1="282.9" y1="139.5" x2="282.9" y2="142.0" stroke="#000" stroke-width="0.7"/>
<text x="282.9" y="261.4" class="tk" text-anchor="middle">2.5</text>
<line x1="300.2" y1="253" x2="300.2" y2="250.5" stroke="#000" stroke-width="0.7"/>
<line x1="300.2" y1="139.5" x2="300.2" y2="142.0" stroke="#000" stroke-width="0.7"/>
<text x="300.2" y="261.4" class="tk" text-anchor="middle">3</text>
<line x1="317.5" y1="253" x2="317.5" y2="250.5" stroke="#000" stroke-width="0.7"/>
<line x1="317.5" y1="139.5" x2="317.5" y2="142.0" stroke="#000" stroke-width="0.7"/>
<text x="317.5" y="261.4" class="tk" text-anchor="middle">3.5</text>
<text x="256.5" y="271" class="ax" text-anchor="middle">Potential (V vs Li/Li<tspan dy="-3.6" style="font-size:5.5px">+</tspan><tspan dy="3.6">)</tspan></text>
<text transform="translate(172,195.9) rotate(-90)" class="ax" text-anchor="middle">Specific Current (mA·g<tspan dy="-3" font-size="5.5">-1</tspan><tspan dy="3">)</tspan></text>
<path d="M197.2,235.0 C197.4,231.2 198.0,219.5 198.3,212.0 C198.6,204.5 198.9,196.7 199.2,190.0 C199.5,183.3 199.8,176.2 200.1,172.0 C200.4,167.8 200.8,166.6 201.2,165.0 C201.6,163.4 202.0,162.8 202.8,162.3 C203.6,161.8 204.8,161.8 206.0,161.8 C207.2,161.8 208.6,162.1 210.0,162.3 C211.4,162.6 212.6,163.4 214.3,163.3 C216.0,163.2 218.1,162.3 220.0,161.5 C221.9,160.7 223.5,159.2 225.7,158.2 C227.9,157.2 230.6,156.4 233.0,155.5 C235.4,154.6 237.7,153.8 240.2,152.8 C242.7,151.9 245.7,151.0 247.8,149.8 C250.0,148.6 251.6,146.5 253.1,145.4 C254.6,144.3 255.6,143.6 256.9,143.5 C258.2,143.4 259.3,144.4 261.0,144.8 C262.7,145.2 264.7,145.7 267.0,146.0 C269.3,146.3 272.0,146.6 275.0,146.8 C278.0,147.0 281.7,147.0 285.0,147.0 C288.3,147.0 292.4,146.8 295.0,146.8 C297.6,146.8 299.8,145.4 300.8,146.8 C301.8,148.2 301.2,152.5 301.2,155.0 C301.2,157.5 301.2,160.1 301.0,162.0 C300.8,163.9 300.4,165.0 300.0,166.5 C299.6,168.0 299.2,169.4 298.5,171.0 C297.8,172.6 296.9,174.8 295.9,176.3 C294.9,177.8 293.6,179.1 292.5,180.2 C291.4,181.3 290.4,182.2 289.1,183.1 C287.9,184.0 286.4,184.7 285.0,185.4 C283.6,186.1 283.2,186.4 281.0,187.2 C278.8,187.9 274.9,188.8 271.5,189.9 C268.1,191.0 263.6,192.8 260.6,194.0 C257.7,195.2 255.8,196.8 253.8,197.2 C251.8,197.6 249.7,197.1 248.4,196.5 C247.1,195.9 246.9,194.5 246.0,193.5 C245.1,192.5 243.9,191.4 243.0,190.5 C242.1,189.6 241.6,188.8 240.8,188.2 C240.1,187.6 239.2,187.3 238.5,187.0 C237.8,186.7 237.3,186.4 236.5,186.6 C235.7,186.8 234.6,188.0 233.6,188.2 C232.6,188.4 231.5,187.9 230.5,187.6 C229.5,187.3 229.6,186.7 227.8,186.6 C226.1,186.5 222.6,186.8 220.0,186.9 C217.4,187.0 214.3,187.2 212.0,187.4 C209.7,187.6 207.5,187.6 206.0,188.0 C204.5,188.4 203.8,188.8 203.0,190.0 C202.2,191.2 201.6,192.5 201.0,195.0 C200.4,197.5 199.9,200.8 199.5,205.0 C199.1,209.2 198.7,215.0 198.3,220.0 C197.9,225.0 197.4,232.5 197.2,235.0" fill="none" stroke="#e83fc8" stroke-width="1.2" stroke-linejoin="round"/>
<path d="M197.5,232.0 C197.7,228.7 198.2,219.0 198.5,212.0 C198.8,205.0 199.0,196.7 199.3,190.0 C199.6,183.3 199.9,176.2 200.2,172.0 C200.5,167.8 200.9,166.7 201.3,165.0 C201.8,163.3 202.1,162.6 202.9,162.0 C203.7,161.4 204.8,161.5 206.0,161.5 C207.2,161.5 208.6,161.7 210.0,162.0 C211.4,162.3 212.6,163.2 214.3,163.1 C216.0,163.0 218.1,162.3 220.0,161.5 C221.9,160.7 223.5,159.4 225.7,158.5 C227.9,157.6 230.6,156.9 233.0,156.0 C235.4,155.1 237.7,154.2 240.2,153.2 C242.7,152.2 245.7,151.5 247.8,150.2 C250.0,148.9 251.6,146.8 253.1,145.6 C254.6,144.4 255.6,143.4 256.9,143.3 C258.2,143.2 259.3,144.5 261.0,145.0 C262.7,145.5 264.7,146.2 267.0,146.3 C269.3,146.4 272.0,145.7 275.0,145.4 C278.0,145.1 281.7,144.8 285.0,144.6 C288.3,144.4 292.5,144.2 295.0,144.3 C297.5,144.4 298.3,144.6 300.0,145.0 C301.7,145.4 303.3,145.8 305.0,146.5 C306.7,147.2 308.4,148.2 310.0,149.0 C311.6,149.8 313.2,150.5 314.5,151.5 C315.8,152.5 317.4,153.6 317.8,155.0 C318.2,156.4 317.4,157.9 316.8,160.0 C316.2,162.1 315.2,164.6 314.0,167.5 C312.8,170.4 311.1,175.3 309.5,177.7 C307.9,180.1 306.4,180.1 304.1,181.7 C301.8,183.3 299.5,185.1 295.9,187.2 C292.3,189.2 286.8,192.4 282.3,194.0 C277.8,195.6 272.9,195.8 268.8,196.7 C264.7,197.6 260.6,198.8 257.9,199.4 C255.2,200.0 254.1,200.5 252.5,200.5 C250.9,200.5 249.7,200.1 248.4,199.4 C247.2,198.7 246.1,197.7 245.0,196.5 C243.9,195.3 242.3,193.3 241.6,192.0 C240.9,190.7 241.3,189.6 240.8,188.9 C240.3,188.2 239.2,187.9 238.5,187.6 C237.8,187.3 237.3,187.0 236.5,187.2 C235.7,187.4 234.6,188.7 233.6,188.9 C232.6,189.1 231.5,188.6 230.5,188.3 C229.5,188.0 229.6,187.3 227.8,187.2 C226.1,187.1 222.6,187.4 220.0,187.5 C217.4,187.6 214.3,187.8 212.0,188.0 C209.7,188.2 207.5,188.1 206.0,188.5 C204.5,188.9 203.8,189.4 203.0,190.5 C202.2,191.6 201.6,192.6 201.0,195.0 C200.4,197.4 199.9,201.2 199.5,205.0 C199.1,208.8 198.8,213.5 198.5,218.0 C198.2,222.5 197.7,229.7 197.5,232.0" fill="none" stroke="#f7931e" stroke-width="1.2" stroke-linejoin="round"/>
<path d="M196.6,252.0 C196.7,249.7 196.9,242.5 197.3,238.0 C197.7,233.5 198.3,228.7 199.0,225.0 C199.7,221.3 200.7,218.3 201.7,215.6 C202.7,212.8 203.9,210.3 205.0,208.5 C206.1,206.7 207.1,205.8 208.0,205.0 C208.9,204.2 209.6,204.1 210.4,204.0 C211.2,203.9 212.2,204.2 213.0,204.6 C213.8,205.0 214.7,206.1 215.5,206.5 C216.3,206.9 216.8,206.6 217.6,206.9 C218.4,207.2 219.3,208.0 220.5,208.3 C221.7,208.6 223.3,208.3 225.0,208.6 C226.7,208.8 229.2,209.2 230.7,209.8 C232.2,210.4 233.1,211.4 234.0,212.0 C234.9,212.6 235.5,212.7 236.2,213.5 C236.8,214.3 237.3,216.7 237.9,217.0 C238.5,217.3 239.3,215.4 240.0,215.5 C240.7,215.6 241.3,217.0 242.0,217.5 C242.7,218.0 243.8,218.2 244.3,218.4 C244.8,218.6 244.8,218.9 245.2,218.5 C245.6,218.1 246.5,217.8 247.0,215.7 C247.5,213.6 247.7,209.1 248.4,206.2 C249.1,203.2 250.0,200.0 251.1,198.0 C252.2,196.0 253.9,195.2 255.2,194.0 C256.5,192.8 257.6,191.9 259.0,191.0 C260.4,190.1 262.0,189.2 263.3,188.5 C264.6,187.8 266.1,187.6 267.0,187.0 C267.9,186.4 268.1,185.0 268.5,185.0 C268.9,185.0 269.2,187.1 269.5,187.0 C269.8,186.9 270.2,184.6 270.5,184.5 C270.8,184.4 271.2,186.6 271.5,186.5 C271.8,186.4 272.2,184.1 272.5,184.0 C272.8,183.9 273.2,186.1 273.5,186.0 C273.8,185.9 274.2,183.6 274.5,183.5 C274.8,183.4 275.2,185.5 275.5,185.5 C275.8,185.5 276.0,183.6 276.5,183.3 C277.0,183.0 277.4,184.1 278.3,183.9 C279.2,183.7 280.9,182.8 282.0,182.2 C283.1,181.6 284.0,181.0 285.1,180.4 C286.2,179.8 287.4,179.2 288.5,178.5 C289.6,177.8 290.9,177.1 291.9,176.3 C292.9,175.5 293.8,174.4 294.5,173.5 C295.2,172.6 295.5,171.9 296.0,170.9 C296.5,169.9 297.2,168.6 297.6,167.5 C298.1,166.4 298.4,165.5 298.7,164.1 C299.0,162.7 299.2,161.0 299.5,159.0 C299.8,157.0 300.0,154.0 300.2,152.0 C300.4,150.0 301.3,147.9 300.6,147.0 C299.9,146.1 297.8,146.6 296.0,146.6 C294.2,146.6 291.8,147.0 290.0,147.2 C288.2,147.3 287.5,147.5 285.0,147.5 C282.5,147.5 277.5,147.5 275.0,147.3 C272.5,147.1 271.7,146.8 270.0,146.5 C268.3,146.2 266.7,145.8 265.0,145.3 C263.3,144.8 261.4,144.1 260.0,143.5 C258.6,142.9 258.1,141.4 256.9,141.8 C255.7,142.2 254.5,144.6 253.0,146.0 C251.5,147.4 250.2,149.1 248.0,150.5 C245.8,151.9 242.7,153.2 240.0,154.5 C237.3,155.8 234.5,156.9 232.0,158.0 C229.5,159.1 227.4,159.9 225.0,161.0 C222.6,162.1 220.0,163.7 217.4,164.6 C214.8,165.5 212.0,166.1 209.7,166.5 C207.4,166.9 205.0,166.3 203.7,166.9 C202.4,167.5 202.4,167.8 201.8,170.0 C201.2,172.2 200.8,175.8 200.4,180.0 C200.0,184.2 199.7,189.2 199.4,195.0 C199.1,200.8 198.7,208.3 198.4,215.0 C198.1,221.7 197.8,228.8 197.5,235.0 C197.2,241.2 196.8,249.2 196.6,252.0" fill="none" stroke="#111" stroke-width="1.2" stroke-linejoin="round"/>
<text x="232.6" y="173.8" class="lb" fill="#d63fb5">Cycle #2</text>
<line x1="267.4" y1="171.4" x2="294" y2="162.6" stroke="#a0308a" stroke-width="1.1"/><path d="M297.5,161.4 L292.8,160.6 L294.2,164.9 Z" fill="#a0308a"/>
<text x="278" y="206.9" class="lb" fill="#f58220">Cycle #5</text>
<line x1="298.3" y1="201.5" x2="300.8" y2="185.5" stroke="#f58220" stroke-width="1.1"/><path d="M301.4,181.7 L298.9,186.2 L302.9,186.7 Z" fill="#f58220"/>
<text x="262.6" y="228.2" class="lb" fill="#111">Cycle #1</text>
<line x1="260.6" y1="223" x2="252.4" y2="214.5" stroke="#111" stroke-width="1.1"/><path d="M249.7,211.6 L250.9,216.2 L254.1,213.2 Z" fill="#111"/>
<text x="274" y="248.9" class="rt">0.2 mV/s</text>
<line x1="359.5" y1="202.9" x2="362.0" y2="202.9" stroke="#000" stroke-width="0.7"/>
<text x="356.5" y="205.9" class="tk" text-anchor="end">0</text>
<line x1="359.5" y1="167.8" x2="362.0" y2="167.8" stroke="#000" stroke-width="0.7"/>
<text x="356.5" y="170.8" class="tk" text-anchor="end">100</text>
<line x1="359.5" y1="132.6" x2="362.0" y2="132.6" stroke="#000" stroke-width="0.7"/>
<text x="356.5" y="135.6" class="tk" text-anchor="end">200</text>
<line x1="359.5" y1="97.5" x2="362.0" y2="97.5" stroke="#000" stroke-width="0.7"/>
<text x="356.5" y="100.5" class="tk" text-anchor="end">300</text>
<line x1="359.5" y1="62.3" x2="362.0" y2="62.3" stroke="#000" stroke-width="0.7"/>
<text x="356.5" y="65.3" class="tk" text-anchor="end">400</text>
<line x1="359.5" y1="185.3" x2="361.0" y2="185.3" stroke="#000" stroke-width="0.6"/>
<line x1="359.5" y1="150.2" x2="361.0" y2="150.2" stroke="#000" stroke-width="0.6"/>
<line x1="359.5" y1="115.0" x2="361.0" y2="115.0" stroke="#000" stroke-width="0.6"/>
<line x1="359.5" y1="79.9" x2="361.0" y2="79.9" stroke="#000" stroke-width="0.6"/>
<line x1="359.5" y1="44.7" x2="361.0" y2="44.7" stroke="#000" stroke-width="0.6"/>
<line x1="521.8" y1="179.2" x2="519.3" y2="179.2" stroke="#000" stroke-width="0.7"/>
<text x="525.8" y="182.2" class="tk">20</text>
<line x1="521.8" y1="147.6" x2="519.3" y2="147.6" stroke="#000" stroke-width="0.7"/>
<text x="525.8" y="150.6" class="tk">40</text>
<line x1="521.8" y1="116.0" x2="519.3" y2="116.0" stroke="#000" stroke-width="0.7"/>
<text x="525.8" y="119.0" class="tk">60</text>
<line x1="521.8" y1="84.3" x2="519.3" y2="84.3" stroke="#000" stroke-width="0.7"/>
<text x="525.8" y="87.3" class="tk">80</text>
<line x1="521.8" y1="52.8" x2="519.3" y2="52.8" stroke="#000" stroke-width="0.7"/>
<text x="525.8" y="55.8" class="tk">100</text>
<line x1="359.5" y1="203.3" x2="359.5" y2="200.8" stroke="#000" stroke-width="0.7"/>
<line x1="359.5" y1="45.3" x2="359.5" y2="47.8" stroke="#000" stroke-width="0.7"/>
<text x="359.5" y="214.7" class="tk" text-anchor="middle">0</text>
<line x1="381.1" y1="203.3" x2="381.1" y2="200.8" stroke="#000" stroke-width="0.7"/>
<line x1="381.1" y1="45.3" x2="381.1" y2="47.8" stroke="#000" stroke-width="0.7"/>
<text x="381.1" y="214.7" class="tk" text-anchor="middle">20</text>
<line x1="402.8" y1="203.3" x2="402.8" y2="200.8" stroke="#000" stroke-width="0.7"/>
<line x1="402.8" y1="45.3" x2="402.8" y2="47.8" stroke="#000" stroke-width="0.7"/>
<text x="402.8" y="214.7" class="tk" text-anchor="middle">40</text>
<line x1="424.4" y1="203.3" x2="424.4" y2="200.8" stroke="#000" stroke-width="0.7"/>
<line x1="424.4" y1="45.3" x2="424.4" y2="47.8" stroke="#000" stroke-width="0.7"/>
<text x="424.4" y="214.7" class="tk" text-anchor="middle">60</text>
<line x1="446.0" y1="203.3" x2="446.0" y2="200.8" stroke="#000" stroke-width="0.7"/>
<line x1="446.0" y1="45.3" x2="446.0" y2="47.8" stroke="#000" stroke-width="0.7"/>
<text x="446.0" y="214.7" class="tk" text-anchor="middle">80</text>
<line x1="467.7" y1="203.3" x2="467.7" y2="200.8" stroke="#000" stroke-width="0.7"/>
<line x1="467.7" y1="45.3" x2="467.7" y2="47.8" stroke="#000" stroke-width="0.7"/>
<text x="467.7" y="214.7" class="tk" text-anchor="middle">100</text>
<line x1="489.3" y1="203.3" x2="489.3" y2="200.8" stroke="#000" stroke-width="0.7"/>
<line x1="489.3" y1="45.3" x2="489.3" y2="47.8" stroke="#000" stroke-width="0.7"/>
<text x="489.3" y="214.7" class="tk" text-anchor="middle">120</text>
<line x1="510.9" y1="203.3" x2="510.9" y2="200.8" stroke="#000" stroke-width="0.7"/>
<line x1="510.9" y1="45.3" x2="510.9" y2="47.8" stroke="#000" stroke-width="0.7"/>
<text x="510.9" y="214.7" class="tk" text-anchor="middle">140</text>
<line x1="370.3" y1="203.3" x2="370.3" y2="201.8" stroke="#000" stroke-width="0.6"/>
<line x1="370.3" y1="45.3" x2="370.3" y2="46.8" stroke="#000" stroke-width="0.6"/>
<line x1="392.0" y1="203.3" x2="392.0" y2="201.8" stroke="#000" stroke-width="0.6"/>
<line x1="392.0" y1="45.3" x2="392.0" y2="46.8" stroke="#000" stroke-width="0.6"/>
<line x1="413.6" y1="203.3" x2="413.6" y2="201.8" stroke="#000" stroke-width="0.6"/>
<line x1="413.6" y1="45.3" x2="413.6" y2="46.8" stroke="#000" stroke-width="0.6"/>
<line x1="435.2" y1="203.3" x2="435.2" y2="201.8" stroke="#000" stroke-width="0.6"/>
<line x1="435.2" y1="45.3" x2="435.2" y2="46.8" stroke="#000" stroke-width="0.6"/>
<line x1="456.9" y1="203.3" x2="456.9" y2="201.8" stroke="#000" stroke-width="0.6"/>
<line x1="456.9" y1="45.3" x2="456.9" y2="46.8" stroke="#000" stroke-width="0.6"/>
<line x1="478.5" y1="203.3" x2="478.5" y2="201.8" stroke="#000" stroke-width="0.6"/>
<line x1="478.5" y1="45.3" x2="478.5" y2="46.8" stroke="#000" stroke-width="0.6"/>
<line x1="500.1" y1="203.3" x2="500.1" y2="201.8" stroke="#000" stroke-width="0.6"/>
<line x1="500.1" y1="45.3" x2="500.1" y2="46.8" stroke="#000" stroke-width="0.6"/>
<line x1="521.8" y1="203.3" x2="521.8" y2="201.8" stroke="#000" stroke-width="0.6"/>
<line x1="521.8" y1="45.3" x2="521.8" y2="46.8" stroke="#000" stroke-width="0.6"/>
<text x="445" y="225.8" class="ax it" style="font-size:8.1px" text-anchor="middle">Cycle Number</text>
<text transform="translate(336.4,117.7) rotate(-90)" class="ax it" style="font-size:7.7px" text-anchor="middle">Specific Capacity / mAh·g<tspan dy="-3" font-size="5">-1</tspan></text>
<text transform="translate(543.8,124.4) rotate(-90)" class="ax it" style="font-size:8px" text-anchor="middle">Coulombic Efficiency / %</text>
<circle cx="360.6" cy="48" r="1" fill="none" stroke="#f050c0" stroke-width="0.5"/>
<circle cx="360.6" cy="51" r="1" fill="none" stroke="#f050c0" stroke-width="0.5"/>
<circle cx="360.6" cy="54" r="1" fill="none" stroke="#f050c0" stroke-width="0.5"/>
<circle cx="360.6" cy="57" r="1" fill="none" stroke="#f050c0" stroke-width="0.5"/>
<circle cx="360.6" cy="60" r="1" fill="none" stroke="#f050c0" stroke-width="0.5"/>
<circle cx="360.6" cy="63" r="1" fill="none" stroke="#f050c0" stroke-width="0.5"/>
<circle cx="360.6" cy="66" r="1" fill="none" stroke="#f050c0" stroke-width="0.5"/>
<circle cx="360.6" cy="69" r="1" fill="none" stroke="#f050c0" stroke-width="0.5"/>
<circle cx="360.6" cy="72" r="1" fill="none" stroke="#f050c0" stroke-width="0.5"/>
<circle cx="360.6" cy="75" r="1" fill="none" stroke="#f050c0" stroke-width="0.5"/>
<circle cx="360.6" cy="78" r="1" fill="none" stroke="#f050c0" stroke-width="0.5"/>
<circle cx="360.6" cy="81" r="1" fill="none" stroke="#f050c0" stroke-width="0.5"/>
<circle cx="360.6" cy="84" r="1" fill="none" stroke="#f050c0" stroke-width="0.5"/>
<circle cx="360.6" cy="87" r="1" fill="none" stroke="#f050c0" stroke-width="0.5"/>
<circle cx="360.6" cy="90" r="1" fill="none" stroke="#f050c0" stroke-width="0.5"/>
<circle cx="360.6" cy="93" r="1" fill="none" stroke="#f050c0" stroke-width="0.5"/>
<circle cx="360.6" cy="96" r="1" fill="none" stroke="#f050c0" stroke-width="0.5"/>
<circle cx="360.6" cy="99" r="1" fill="none" stroke="#f050c0" stroke-width="0.5"/>
<circle cx="360.6" cy="104" r="1" fill="none" stroke="#f09030" stroke-width="0.5"/>
<circle cx="360.6" cy="107" r="1" fill="none" stroke="#f09030" stroke-width="0.5"/>
<circle cx="360.6" cy="110" r="1" fill="none" stroke="#f09030" stroke-width="0.5"/>
<circle cx="360.6" cy="113" r="1" fill="none" stroke="#f09030" stroke-width="0.5"/>
<circle cx="360.6" cy="116" r="1" fill="none" stroke="#f09030" stroke-width="0.5"/>
<circle cx="360.6" cy="119" r="1" fill="none" stroke="#f09030" stroke-width="0.5"/>
<circle cx="360.6" cy="122" r="1" fill="none" stroke="#f09030" stroke-width="0.5"/>
<circle cx="360.6" cy="125" r="1" fill="none" stroke="#f09030" stroke-width="0.5"/>
<circle cx="360.6" cy="128" r="1" fill="none" stroke="#f09030" stroke-width="0.5"/>
<circle cx="360.6" cy="131" r="1" fill="none" stroke="#f09030" stroke-width="0.5"/>
<circle cx="360.6" cy="134" r="1" fill="none" stroke="#f09030" stroke-width="0.5"/>
<circle cx="360.6" cy="137" r="1" fill="none" stroke="#f09030" stroke-width="0.5"/>
<circle cx="360.6" cy="140" r="1" fill="none" stroke="#f09030" stroke-width="0.5"/>
<circle cx="360.6" cy="143" r="1" fill="none" stroke="#f09030" stroke-width="0.5"/>
<circle cx="360.6" cy="146" r="1" fill="none" stroke="#f09030" stroke-width="0.5"/>
<circle cx="360.6" cy="149" r="1" fill="none" stroke="#f09030" stroke-width="0.5"/>
<circle cx="360.6" cy="152" r="1" fill="none" stroke="#f09030" stroke-width="0.5"/>
<circle cx="360.6" cy="155" r="1" fill="none" stroke="#f09030" stroke-width="0.5"/>
<circle cx="360.6" cy="158" r="1" fill="none" stroke="#f09030" stroke-width="0.5"/>
<circle cx="360.6" cy="161" r="1" fill="none" stroke="#f09030" stroke-width="0.5"/>
<circle cx="360.6" cy="164" r="1" fill="none" stroke="#f09030" stroke-width="0.5"/>
<circle cx="360.6" cy="167" r="1" fill="none" stroke="#f09030" stroke-width="0.5"/>
<path d="M361.2,72.0 C361.5,71.2 362.2,69.0 363.0,67.5 C363.8,66.0 364.9,64.3 366.0,63.0 C367.1,61.7 368.3,60.5 369.5,59.5 C370.7,58.5 371.8,57.8 373.0,57.0 C374.2,56.2 375.5,55.5 377.0,55.0 C378.5,54.5 380.2,54.1 382.0,53.9 C383.8,53.7 387.0,53.7 388.0,53.7" fill="none" stroke="#e08a68" stroke-width="1.6" stroke-linecap="round"/>
<path d="M380.0,53.9 C383.3,53.9 390.0,53.8 400.0,53.8 C410.0,53.8 426.7,53.8 440.0,53.8 C453.3,53.8 466.9,53.8 480.0,53.8 C493.1,53.8 512.1,53.8 518.5,53.8" fill="none" stroke="#c98668" stroke-width="4.2" stroke-linecap="round" stroke-linejoin="round"/>
<path d="M380.0,53.9 C383.3,53.9 390.0,53.8 400.0,53.8 C410.0,53.8 426.7,53.8 440.0,53.8 C453.3,53.8 466.9,53.8 480.0,53.8 C493.1,53.8 512.1,53.8 518.5,53.8" fill="none" stroke="#e3a88c" stroke-width="3.0" stroke-linecap="round" stroke-linejoin="round"/>
<path d="M377.6,52.3 l2.8,3.2 m0,-3.2 l-2.8,3.2" stroke="#8c6e60" stroke-width="0.5"/>
<path d="M378.7,52.3 l2.8,3.2 m0,-3.2 l-2.8,3.2" stroke="#8c6e60" stroke-width="0.5"/>
<path d="M379.7,52.3 l2.8,3.2 m0,-3.2 l-2.8,3.2" stroke="#8c6e60" stroke-width="0.5"/>
<path d="M380.8,52.3 l2.8,3.2 m0,-3.2 l-2.8,3.2" stroke="#8c6e60" stroke-width="0.5"/>
<path d="M381.9,52.3 l2.8,3.2 m0,-3.2 l-2.8,3.2" stroke="#8c6e60" stroke-width="0.5"/>
<path d="M383.0,52.3 l2.8,3.2 m0,-3.2 l-2.8,3.2" stroke="#8c6e60" stroke-width="0.5"/>
<path d="M384.1,52.3 l2.8,3.2 m0,-3.2 l-2.8,3.2" stroke="#8c6e60" stroke-width="0.5"/>
<path d="M385.1,52.3 l2.8,3.2 m0,-3.2 l-2.8,3.2" stroke="#8c6e60" stroke-width="0.5"/>
<path d="M386.2,52.3 l2.8,3.2 m0,-3.2 l-2.8,3.2" stroke="#8c6e60" stroke-width="0.5"/>
<path d="M387.3,52.3 l2.8,3.2 m0,-3.2 l-2.8,3.2" stroke="#8c6e60" stroke-width="0.5"/>
<path d="M388.4,52.3 l2.8,3.2 m0,-3.2 l-2.8,3.2" stroke="#8c6e60" stroke-width="0.5"/>
<path d="M389.5,52.3 l2.8,3.2 m0,-3.2 l-2.8,3.2" stroke="#8c6e60" stroke-width="0.5"/>
<path d="M390.6,52.3 l2.8,3.2 m0,-3.2 l-2.8,3.2" stroke="#8c6e60" stroke-width="0.5"/>
<path d="M391.6,52.3 l2.8,3.2 m0,-3.2 l-2.8,3.2" stroke="#8c6e60" stroke-width="0.5"/>
<path d="M392.7,52.3 l2.8,3.2 m0,-3.2 l-2.8,3.2" stroke="#8c6e60" stroke-width="0.5"/>
<path d="M393.8,52.3 l2.8,3.2 m0,-3.2 l-2.8,3.2" stroke="#8c6e60" stroke-width="0.5"/>
<path d="M394.9,52.3 l2.8,3.2 m0,-3.2 l-2.8,3.2" stroke="#8c6e60" stroke-width="0.5"/>
<path d="M396.0,52.3 l2.8,3.2 m0,-3.2 l-2.8,3.2" stroke="#8c6e60" stroke-width="0.5"/>
<path d="M397.0,52.3 l2.8,3.2 m0,-3.2 l-2.8,3.2" stroke="#8c6e60" stroke-width="0.5"/>
<path d="M398.1,52.3 l2.8,3.2 m0,-3.2 l-2.8,3.2" stroke="#8c6e60" stroke-width="0.5"/>
<path d="M399.2,52.3 l2.8,3.2 m0,-3.2 l-2.8,3.2" stroke="#8c6e60" stroke-width="0.5"/>
<path d="M400.3,52.3 l2.8,3.2 m0,-3.2 l-2.8,3.2" stroke="#8c6e60" stroke-width="0.5"/>
<path d="M401.4,52.3 l2.8,3.2 m0,-3.2 l-2.8,3.2" stroke="#8c6e60" stroke-width="0.5"/>
<path d="M402.4,52.3 l2.8,3.2 m0,-3.2 l-2.8,3.2" stroke="#8c6e60" stroke-width="0.5"/>
<path d="M403.5,52.3 l2.8,3.2 m0,-3.2 l-2.8,3.2" stroke="#8c6e60" stroke-width="0.5"/>
<path d="M404.6,52.3 l2.8,3.2 m0,-3.2 l-2.8,3.2" stroke="#8c6e60" stroke-width="0.5"/>
<path d="M405.7,52.3 l2.8,3.2 m0,-3.2 l-2.8,3.2" stroke="#8c6e60" stroke-width="0.5"/>
<path d="M406.8,52.3 l2.8,3.2 m0,-3.2 l-2.8,3.2" stroke="#8c6e60" stroke-width="0.5"/>
<path d="M407.9,52.3 l2.8,3.2 m0,-3.2 l-2.8,3.2" stroke="#8c6e60" stroke-width="0.5"/>
<path d="M408.9,52.3 l2.8,3.2 m0,-3.2 l-2.8,3.2" stroke="#8c6e60" stroke-width="0.5"/>
<path d="M410.0,52.3 l2.8,3.2 m0,-3.2 l-2.8,3.2" stroke="#8c6e60" stroke-width="0.5"/>
<path d="M411.1,52.3 l2.8,3.2 m0,-3.2 l-2.8,3.2" stroke="#8c6e60" stroke-width="0.5"/>
<path d="M412.2,52.3 l2.8,3.2 m0,-3.2 l-2.8,3.2" stroke="#8c6e60" stroke-width="0.5"/>
<path d="M413.3,52.3 l2.8,3.2 m0,-3.2 l-2.8,3.2" stroke="#8c6e60" stroke-width="0.5"/>
<path d="M414.3,52.3 l2.8,3.2 m0,-3.2 l-2.8,3.2" stroke="#8c6e60" stroke-width="0.5"/>
<path d="M415.4,52.3 l2.8,3.2 m0,-3.2 l-2.8,3.2" stroke="#8c6e60" stroke-width="0.5"/>
<path d="M416.5,52.3 l2.8,3.2 m0,-3.2 l-2.8,3.2" stroke="#8c6e60" stroke-width="0.5"/>
<path d="M417.6,52.3 l2.8,3.2 m0,-3.2 l-2.8,3.2" stroke="#8c6e60" stroke-width="0.5"/>
<path d="M418.7,52.3 l2.8,3.2 m0,-3.2 l-2.8,3.2" stroke="#8c6e60" stroke-width="0.5"/>
<path d="M419.8,52.3 l2.8,3.2 m0,-3.2 l-2.8,3.2" stroke="#8c6e60" stroke-width="0.5"/>
<path d="M420.8,52.3 l2.8,3.2 m0,-3.2 l-2.8,3.2" stroke="#8c6e60" stroke-width="0.5"/>
<path d="M421.9,52.3 l2.8,3.2 m0,-3.2 l-2.8,3.2" stroke="#8c6e60" stroke-width="0.5"/>
<path d="M423.0,52.3 l2.8,3.2 m0,-3.2 l-2.8,3.2" stroke="#8c6e60" stroke-width="0.5"/>
<path d="M424.1,52.3 l2.8,3.2 m0,-3.2 l-2.8,3.2" stroke="#8c6e60" stroke-width="0.5"/>
<path d="M425.2,52.3 l2.8,3.2 m0,-3.2 l-2.8,3.2" stroke="#8c6e60" stroke-width="0.5"/>
<path d="M426.2,52.3 l2.8,3.2 m0,-3.2 l-2.8,3.2" stroke="#8c6e60" stroke-width="0.5"/>
<path d="M427.3,52.3 l2.8,3.2 m0,-3.2 l-2.8,3.2" stroke="#8c6e60" stroke-width="0.5"/>
<path d="M428.4,52.3 l2.8,3.2 m0,-3.2 l-2.8,3.2" stroke="#8c6e60" stroke-width="0.5"/>
<path d="M429.5,52.3 l2.8,3.2 m0,-3.2 l-2.8,3.2" stroke="#8c6e60" stroke-width="0.5"/>
<path d="M430.6,52.3 l2.8,3.2 m0,-3.2 l-2.8,3.2" stroke="#8c6e60" stroke-width="0.5"/>
<path d="M431.7,52.3 l2.8,3.2 m0,-3.2 l-2.8,3.2" stroke="#8c6e60" stroke-width="0.5"/>
<path d="M432.7,52.3 l2.8,3.2 m0,-3.2 l-2.8,3.2" stroke="#8c6e60" stroke-width="0.5"/>
<path d="M433.8,52.3 l2.8,3.2 m0,-3.2 l-2.8,3.2" stroke="#8c6e60" stroke-width="0.5"/>
<path d="M434.9,52.3 l2.8,3.2 m0,-3.2 l-2.8,3.2" stroke="#8c6e60" stroke-width="0.5"/>
<path d="M436.0,52.3 l2.8,3.2 m0,-3.2 l-2.8,3.2" stroke="#8c6e60" stroke-width="0.5"/>
<path d="M437.1,52.3 l2.8,3.2 m0,-3.2 l-2.8,3.2" stroke="#8c6e60" stroke-width="0.5"/>
<path d="M438.1,52.3 l2.8,3.2 m0,-3.2 l-2.8,3.2" stroke="#8c6e60" stroke-width="0.5"/>
<path d="M439.2,52.3 l2.8,3.2 m0,-3.2 l-2.8,3.2" stroke="#8c6e60" stroke-width="0.5"/>
<path d="M440.3,52.3 l2.8,3.2 m0,-3.2 l-2.8,3.2" stroke="#8c6e60" stroke-width="0.5"/>
<path d="M441.4,52.3 l2.8,3.2 m0,-3.2 l-2.8,3.2" stroke="#8c6e60" stroke-width="0.5"/>
<path d="M442.5,52.3 l2.8,3.2 m0,-3.2 l-2.8,3.2" stroke="#8c6e60" stroke-width="0.5"/>
<path d="M443.6,52.3 l2.8,3.2 m0,-3.2 l-2.8,3.2" stroke="#8c6e60" stroke-width="0.5"/>
<path d="M444.6,52.3 l2.8,3.2 m0,-3.2 l-2.8,3.2" stroke="#8c6e60" stroke-width="0.5"/>
<path d="M445.7,52.3 l2.8,3.2 m0,-3.2 l-2.8,3.2" stroke="#8c6e60" stroke-width="0.5"/>
<path d="M446.8,52.3 l2.8,3.2 m0,-3.2 l-2.8,3.2" stroke="#8c6e60" stroke-width="0.5"/>
<path d="M447.9,52.3 l2.8,3.2 m0,-3.2 l-2.8,3.2" stroke="#8c6e60" stroke-width="0.5"/>
<path d="M449.0,52.3 l2.8,3.2 m0,-3.2 l-2.8,3.2" stroke="#8c6e60" stroke-width="0.5"/>
<path d="M450.0,52.3 l2.8,3.2 m0,-3.2 l-2.8,3.2" stroke="#8c6e60" stroke-width="0.5"/>
<path d="M451.1,52.3 l2.8,3.2 m0,-3.2 l-2.8,3.2" stroke="#8c6e60" stroke-width="0.5"/>
<path d="M452.2,52.3 l2.8,3.2 m0,-3.2 l-2.8,3.2" stroke="#8c6e60" stroke-width="0.5"/>
<path d="M453.3,52.3 l2.8,3.2 m0,-3.2 l-2.8,3.2" stroke="#8c6e60" stroke-width="0.5"/>
<path d="M454.4,52.3 l2.8,3.2 m0,-3.2 l-2.8,3.2" stroke="#8c6e60" stroke-width="0.5"/>
<path d="M455.5,52.3 l2.8,3.2 m0,-3.2 l-2.8,3.2" stroke="#8c6e60" stroke-width="0.5"/>
<path d="M456.5,52.3 l2.8,3.2 m0,-3.2 l-2.8,3.2" stroke="#8c6e60" stroke-width="0.5"/>
<path d="M457.6,52.3 l2.8,3.2 m0,-3.2 l-2.8,3.2" stroke="#8c6e60" stroke-width="0.5"/>
<path d="M458.7,52.3 l2.8,3.2 m0,-3.2 l-2.8,3.2" stroke="#8c6e60" stroke-width="0.5"/>
<path d="M459.8,52.3 l2.8,3.2 m0,-3.2 l-2.8,3.2" stroke="#8c6e60" stroke-width="0.5"/>
<path d="M460.9,52.3 l2.8,3.2 m0,-3.2 l-2.8,3.2" stroke="#8c6e60" stroke-width="0.5"/>
<path d="M461.9,52.3 l2.8,3.2 m0,-3.2 l-2.8,3.2" stroke="#8c6e60" stroke-width="0.5"/>
<path d="M463.0,52.3 l2.8,3.2 m0,-3.2 l-2.8,3.2" stroke="#8c6e60" stroke-width="0.5"/>
<path d="M464.1,52.3 l2.8,3.2 m0,-3.2 l-2.8,3.2" stroke="#8c6e60" stroke-width="0.5"/>
<path d="M465.2,52.3 l2.8,3.2 m0,-3.2 l-2.8,3.2" stroke="#8c6e60" stroke-width="0.5"/>
<path d="M466.3,52.3 l2.8,3.2 m0,-3.2 l-2.8,3.2" stroke="#8c6e60" stroke-width="0.5"/>
<path d="M467.4,52.3 l2.8,3.2 m0,-3.2 l-2.8,3.2" stroke="#8c6e60" stroke-width="0.5"/>
<path d="M468.4,52.3 l2.8,3.2 m0,-3.2 l-2.8,3.2" stroke="#8c6e60" stroke-width="0.5"/>
<path d="M469.5,52.3 l2.8,3.2 m0,-3.2 l-2.8,3.2" stroke="#8c6e60" stroke-width="0.5"/>
<path d="M470.6,52.3 l2.8,3.2 m0,-3.2 l-2.8,3.2" stroke="#8c6e60" stroke-width="0.5"/>
<path d="M471.7,52.3 l2.8,3.2 m0,-3.2 l-2.8,3.2" stroke="#8c6e60" stroke-width="0.5"/>
<path d="M472.8,52.3 l2.8,3.2 m0,-3.2 l-2.8,3.2" stroke="#8c6e60" stroke-width="0.5"/>
<path d="M473.8,52.3 l2.8,3.2 m0,-3.2 l-2.8,3.2" stroke="#8c6e60" stroke-width="0.5"/>
<path d="M474.9,52.3 l2.8,3.2 m0,-3.2 l-2.8,3.2" stroke="#8c6e60" stroke-width="0.5"/>
<path d="M476.0,52.3 l2.8,3.2 m0,-3.2 l-2.8,3.2" stroke="#8c6e60" stroke-width="0.5"/>
<path d="M477.1,52.3 l2.8,3.2 m0,-3.2 l-2.8,3.2" stroke="#8c6e60" stroke-width="0.5"/>
<path d="M478.2,52.3 l2.8,3.2 m0,-3.2 l-2.8,3.2" stroke="#8c6e60" stroke-width="0.5"/>
<path d="M479.3,52.3 l2.8,3.2 m0,-3.2 l-2.8,3.2" stroke="#8c6e60" stroke-width="0.5"/>
<path d="M480.3,52.3 l2.8,3.2 m0,-3.2 l-2.8,3.2" stroke="#8c6e60" stroke-width="0.5"/>
<path d="M481.4,52.3 l2.8,3.2 m0,-3.2 l-2.8,3.2" stroke="#8c6e60" stroke-width="0.5"/>
<path d="M482.5,52.3 l2.8,3.2 m0,-3.2 l-2.8,3.2" stroke="#8c6e60" stroke-width="0.5"/>
<path d="M483.6,52.3 l2.8,3.2 m0,-3.2 l-2.8,3.2" stroke="#8c6e60" stroke-width="0.5"/>
<path d="M484.7,52.3 l2.8,3.2 m0,-3.2 l-2.8,3.2" stroke="#8c6e60" stroke-width="0.5"/>
<path d="M485.7,52.3 l2.8,3.2 m0,-3.2 l-2.8,3.2" stroke="#8c6e60" stroke-width="0.5"/>
<path d="M486.8,52.3 l2.8,3.2 m0,-3.2 l-2.8,3.2" stroke="#8c6e60" stroke-width="0.5"/>
<path d="M487.9,52.3 l2.8,3.2 m0,-3.2 l-2.8,3.2" stroke="#8c6e60" stroke-width="0.5"/>
<path d="M489.0,52.3 l2.8,3.2 m0,-3.2 l-2.8,3.2" stroke="#8c6e60" stroke-width="0.5"/>
<path d="M490.1,52.3 l2.8,3.2 m0,-3.2 l-2.8,3.2" stroke="#8c6e60" stroke-width="0.5"/>
<path d="M491.1,52.3 l2.8,3.2 m0,-3.2 l-2.8,3.2" stroke="#8c6e60" stroke-width="0.5"/>
<path d="M492.2,52.3 l2.8,3.2 m0,-3.2 l-2.8,3.2" stroke="#8c6e60" stroke-width="0.5"/>
<path d="M493.3,52.3 l2.8,3.2 m0,-3.2 l-2.8,3.2" stroke="#8c6e60" stroke-width="0.5"/>
<path d="M494.4,52.3 l2.8,3.2 m0,-3.2 l-2.8,3.2" stroke="#8c6e60" stroke-width="0.5"/>
<path d="M495.5,52.3 l2.8,3.2 m0,-3.2 l-2.8,3.2" stroke="#8c6e60" stroke-width="0.5"/>
<path d="M496.6,52.3 l2.8,3.2 m0,-3.2 l-2.8,3.2" stroke="#8c6e60" stroke-width="0.5"/>
<path d="M497.6,52.3 l2.8,3.2 m0,-3.2 l-2.8,3.2" stroke="#8c6e60" stroke-width="0.5"/>
<path d="M498.7,52.3 l2.8,3.2 m0,-3.2 l-2.8,3.2" stroke="#8c6e60" stroke-width="0.5"/>
<path d="M499.8,52.3 l2.8,3.2 m0,-3.2 l-2.8,3.2" stroke="#8c6e60" stroke-width="0.5"/>
<path d="M500.9,52.3 l2.8,3.2 m0,-3.2 l-2.8,3.2" stroke="#8c6e60" stroke-width="0.5"/>
<path d="M502.0,52.3 l2.8,3.2 m0,-3.2 l-2.8,3.2" stroke="#8c6e60" stroke-width="0.5"/>
<path d="M503.0,52.3 l2.8,3.2 m0,-3.2 l-2.8,3.2" stroke="#8c6e60" stroke-width="0.5"/>
<path d="M504.1,52.3 l2.8,3.2 m0,-3.2 l-2.8,3.2" stroke="#8c6e60" stroke-width="0.5"/>
<path d="M505.2,52.3 l2.8,3.2 m0,-3.2 l-2.8,3.2" stroke="#8c6e60" stroke-width="0.5"/>
<path d="M506.3,52.3 l2.8,3.2 m0,-3.2 l-2.8,3.2" stroke="#8c6e60" stroke-width="0.5"/>
<path d="M507.4,52.3 l2.8,3.2 m0,-3.2 l-2.8,3.2" stroke="#8c6e60" stroke-width="0.5"/>
<path d="M508.5,52.3 l2.8,3.2 m0,-3.2 l-2.8,3.2" stroke="#8c6e60" stroke-width="0.5"/>
<path d="M509.5,52.3 l2.8,3.2 m0,-3.2 l-2.8,3.2" stroke="#8c6e60" stroke-width="0.5"/>
<path d="M510.6,52.3 l2.8,3.2 m0,-3.2 l-2.8,3.2" stroke="#8c6e60" stroke-width="0.5"/>
<path d="M511.7,52.3 l2.8,3.2 m0,-3.2 l-2.8,3.2" stroke="#8c6e60" stroke-width="0.5"/>
<path d="M512.8,52.3 l2.8,3.2 m0,-3.2 l-2.8,3.2" stroke="#8c6e60" stroke-width="0.5"/>
<path d="M513.9,52.3 l2.8,3.2 m0,-3.2 l-2.8,3.2" stroke="#8c6e60" stroke-width="0.5"/>
<path d="M514.9,52.3 l2.8,3.2 m0,-3.2 l-2.8,3.2" stroke="#8c6e60" stroke-width="0.5"/>
<path d="M516.0,52.3 l2.8,3.2 m0,-3.2 l-2.8,3.2" stroke="#8c6e60" stroke-width="0.5"/>
<path d="M517.1,52.3 l2.8,3.2 m0,-3.2 l-2.8,3.2" stroke="#8c6e60" stroke-width="0.5"/>
<path d="M518.2,52.3 l2.8,3.2 m0,-3.2 l-2.8,3.2" stroke="#8c6e60" stroke-width="0.5"/>
<path d="M519.3,52.3 l2.8,3.2 m0,-3.2 l-2.8,3.2" stroke="#8c6e60" stroke-width="0.5"/>
<path d="M376.3,58.2 l3.2,3.2 m0,-3.2 l-3.2,3.2" stroke="#707070" stroke-width="0.5"/>
<path d="M384.0,54.7 l3.2,3.2 m0,-3.2 l-3.2,3.2" stroke="#707070" stroke-width="0.5"/>
<path d="M361.0,67.6 l3.2,3.2 m0,-3.2 l-3.2,3.2" stroke="#707070" stroke-width="0.5"/>
<path d="M377.6,53.1 l3.2,3.2 m0,-3.2 l-3.2,3.2" stroke="#707070" stroke-width="0.5"/>
<path d="M370.6,58.6 l3.2,3.2 m0,-3.2 l-3.2,3.2" stroke="#707070" stroke-width="0.5"/>
<path d="M372.2,54.9 l3.2,3.2 m0,-3.2 l-3.2,3.2" stroke="#707070" stroke-width="0.5"/>
<path d="M368.8,62.8 l3.2,3.2 m0,-3.2 l-3.2,3.2" stroke="#707070" stroke-width="0.5"/>
<path d="M365.4,60.1 l3.2,3.2 m0,-3.2 l-3.2,3.2" stroke="#707070" stroke-width="0.5"/>
<path d="M373.7,52.8 l3.2,3.2 m0,-3.2 l-3.2,3.2" stroke="#707070" stroke-width="0.5"/>
<path d="M380.2,50.7 l3.2,3.2 m0,-3.2 l-3.2,3.2" stroke="#707070" stroke-width="0.5"/>
<path d="M385.5,49.7 l3.2,3.2 m0,-3.2 l-3.2,3.2" stroke="#707070" stroke-width="0.5"/>
<path d="M383.6,52.7 l3.2,3.2 m0,-3.2 l-3.2,3.2" stroke="#707070" stroke-width="0.5"/>
<path d="M367.1,63.4 l3.2,3.2 m0,-3.2 l-3.2,3.2" stroke="#707070" stroke-width="0.5"/>
<path d="M385.2,50.0 l3.2,3.2 m0,-3.2 l-3.2,3.2" stroke="#707070" stroke-width="0.5"/>
<path d="M367.7,57.4 l3.2,3.2 m0,-3.2 l-3.2,3.2" stroke="#707070" stroke-width="0.5"/>
<path d="M361.2,64.7 l3.2,3.2 m0,-3.2 l-3.2,3.2" stroke="#707070" stroke-width="0.5"/>
<path d="M361.2,63.7 l3.2,3.2 m0,-3.2 l-3.2,3.2" stroke="#707070" stroke-width="0.5"/>
<path d="M369.1,60.4 l3.2,3.2 m0,-3.2 l-3.2,3.2" stroke="#707070" stroke-width="0.5"/>
<path d="M367.9,61.9 l3.2,3.2 m0,-3.2 l-3.2,3.2" stroke="#707070" stroke-width="0.5"/>
<path d="M363.7,60.8 l3.2,3.2 m0,-3.2 l-3.2,3.2" stroke="#707070" stroke-width="0.5"/>
<path d="M379.8,51.0 l3.2,3.2 m0,-3.2 l-3.2,3.2" stroke="#707070" stroke-width="0.5"/>
<path d="M378.8,54.4 l3.2,3.2 m0,-3.2 l-3.2,3.2" stroke="#707070" stroke-width="0.5"/>
<path d="M358.8,62.5 l3.2,3.2 m0,-3.2 l-3.2,3.2" stroke="#707070" stroke-width="0.5"/>
<path d="M382.1,53.3 l3.2,3.2 m0,-3.2 l-3.2,3.2" stroke="#707070" stroke-width="0.5"/>
<path d="M384.5,50.8 l3.2,3.2 m0,-3.2 l-3.2,3.2" stroke="#707070" stroke-width="0.5"/>
<path d="M369.0,61.9 l3.2,3.2 m0,-3.2 l-3.2,3.2" stroke="#707070" stroke-width="0.5"/>
<path d="M360.4,45.4 l3.2,3.2 m0,-3.2 l-3.2,3.2" stroke="#707070" stroke-width="0.5"/>
<path d="M364.4,44.9 l3.2,3.2 m0,-3.2 l-3.2,3.2" stroke="#707070" stroke-width="0.5"/>
<path d="M382.4,45.9 l3.2,3.2 m0,-3.2 l-3.2,3.2" stroke="#707070" stroke-width="0.5"/>
<path d="M379.4,47.4 l3.2,3.2 m0,-3.2 l-3.2,3.2" stroke="#707070" stroke-width="0.5"/>
<circle cx="362.1" cy="75.3" r="1.3" fill="none" stroke="#f09070" stroke-width="0.5"/>
<circle cx="366.3" cy="64.7" r="1.3" fill="none" stroke="#f09070" stroke-width="0.5"/>
<circle cx="361.7" cy="77.2" r="1.3" fill="none" stroke="#f09070" stroke-width="0.5"/>
<circle cx="362.0" cy="73.9" r="1.3" fill="none" stroke="#f09070" stroke-width="0.5"/>
<circle cx="365.2" cy="67.9" r="1.3" fill="none" stroke="#f09070" stroke-width="0.5"/>
<circle cx="363.5" cy="72.3" r="1.3" fill="none" stroke="#f09070" stroke-width="0.5"/>
<circle cx="364.8" cy="66.5" r="1.3" fill="none" stroke="#f09070" stroke-width="0.5"/>
<circle cx="363.4" cy="69.6" r="1.3" fill="none" stroke="#f09070" stroke-width="0.5"/>
<circle cx="362.0" cy="73.3" r="1.3" fill="none" stroke="#f09070" stroke-width="0.5"/>
<circle cx="365.6" cy="67.0" r="1.3" fill="none" stroke="#f09070" stroke-width="0.5"/>
<circle cx="362.5" cy="71.6" r="1.3" fill="none" stroke="#f09070" stroke-width="0.5"/>
<circle cx="367.4" cy="60.3" r="1.3" fill="none" stroke="#f09070" stroke-width="0.5"/>
<circle cx="363.9" cy="68.5" r="1.3" fill="none" stroke="#f09070" stroke-width="0.5"/>
<circle cx="365.1" cy="67.8" r="1.3" fill="none" stroke="#f09070" stroke-width="0.5"/>
<path d="M361.0,87.0 C361.7,88.2 363.5,91.9 365.0,94.0 C366.5,96.1 368.7,98.3 370.0,99.7 C371.3,101.1 371.7,101.7 373.0,102.3 C374.3,102.9 376.0,103.5 378.0,103.5 C380.0,103.5 383.0,102.8 385.0,102.3 C387.0,101.8 388.3,100.6 390.0,100.4 C391.7,100.2 393.3,100.6 395.0,101.0 C396.7,101.4 397.5,102.5 400.0,102.7 C402.5,102.9 407.3,102.5 410.0,102.3 C412.7,102.1 414.3,101.8 416.0,101.5 C417.7,101.2 418.5,101.0 420.0,100.8 C421.5,100.6 423.5,100.7 425.0,100.2 C426.5,99.7 427.8,98.6 429.0,98.0 C430.2,97.4 431.3,96.8 432.5,96.8 C433.7,96.8 434.9,97.2 436.0,97.8 C437.1,98.4 438.1,99.5 439.0,100.5 C439.9,101.5 440.6,102.5 441.5,103.5 C442.4,104.5 443.4,106.4 444.3,106.5 C445.2,106.6 445.9,104.7 447.0,104.0 C448.1,103.3 449.5,102.8 451.0,102.6 C452.5,102.4 454.3,102.7 456.0,102.8 C457.7,102.9 459.5,103.5 461.0,103.2 C462.5,102.9 463.5,101.9 465.0,101.0 C466.5,100.1 468.2,98.4 470.0,97.8 C471.8,97.2 474.0,96.9 476.0,97.2 C478.0,97.5 479.7,98.7 482.0,99.5 C484.3,100.3 487.0,101.2 490.0,102.0 C493.0,102.8 496.7,103.7 500.0,104.5 C503.3,105.3 506.9,106.3 510.0,107.0 C513.1,107.7 517.1,108.4 518.5,108.7" fill="none" stroke="#8c7a22" stroke-width="5.6000000000000005" stroke-linecap="round" stroke-linejoin="round"/>
<path d="M361.0,87.0 C361.7,88.2 363.5,91.9 365.0,94.0 C366.5,96.1 368.7,98.3 370.0,99.7 C371.3,101.1 371.7,101.7 373.0,102.3 C374.3,102.9 376.0,103.5 378.0,103.5 C380.0,103.5 383.0,102.8 385.0,102.3 C387.0,101.8 388.3,100.6 390.0,100.4 C391.7,100.2 393.3,100.6 395.0,101.0 C396.7,101.4 397.5,102.5 400.0,102.7 C402.5,102.9 407.3,102.5 410.0,102.3 C412.7,102.1 414.3,101.8 416.0,101.5 C417.7,101.2 418.5,101.0 420.0,100.8 C421.5,100.6 423.5,100.7 425.0,100.2 C426.5,99.7 427.8,98.6 429.0,98.0 C430.2,97.4 431.3,96.8 432.5,96.8 C433.7,96.8 434.9,97.2 436.0,97.8 C437.1,98.4 438.1,99.5 439.0,100.5 C439.9,101.5 440.6,102.5 441.5,103.5 C442.4,104.5 443.4,106.4 444.3,106.5 C445.2,106.6 445.9,104.7 447.0,104.0 C448.1,103.3 449.5,102.8 451.0,102.6 C452.5,102.4 454.3,102.7 456.0,102.8 C457.7,102.9 459.5,103.5 461.0,103.2 C462.5,102.9 463.5,101.9 465.0,101.0 C466.5,100.1 468.2,98.4 470.0,97.8 C471.8,97.2 474.0,96.9 476.0,97.2 C478.0,97.5 479.7,98.7 482.0,99.5 C484.3,100.3 487.0,101.2 490.0,102.0 C493.0,102.8 496.7,103.7 500.0,104.5 C503.3,105.3 506.9,106.3 510.0,107.0 C513.1,107.7 517.1,108.4 518.5,108.7" fill="none" stroke="#c6b668" stroke-width="4.4" stroke-linecap="round" stroke-linejoin="round"/>
<path d="M361.0,87.0 C361.7,88.2 363.5,91.9 365.0,94.0 C366.5,96.1 368.7,98.3 370.0,99.7 C371.3,101.1 371.7,101.7 373.0,102.3 C374.3,102.9 376.0,103.5 378.0,103.5 C380.0,103.5 383.0,102.8 385.0,102.3 C387.0,101.8 388.3,100.6 390.0,100.4 C391.7,100.2 393.3,100.6 395.0,101.0 C396.7,101.4 397.5,102.5 400.0,102.7 C402.5,102.9 407.3,102.5 410.0,102.3 C412.7,102.1 414.3,101.8 416.0,101.5 C417.7,101.2 418.5,101.0 420.0,100.8 C421.5,100.6 423.5,100.7 425.0,100.2 C426.5,99.7 427.8,98.6 429.0,98.0 C430.2,97.4 431.3,96.8 432.5,96.8 C433.7,96.8 434.9,97.2 436.0,97.8 C437.1,98.4 438.1,99.5 439.0,100.5 C439.9,101.5 440.6,102.5 441.5,103.5 C442.4,104.5 443.4,106.4 444.3,106.5 C445.2,106.6 445.9,104.7 447.0,104.0 C448.1,103.3 449.5,102.8 451.0,102.6 C452.5,102.4 454.3,102.7 456.0,102.8 C457.7,102.9 459.5,103.5 461.0,103.2 C462.5,102.9 463.5,101.9 465.0,101.0 C466.5,100.1 468.2,98.4 470.0,97.8 C471.8,97.2 474.0,96.9 476.0,97.2 C478.0,97.5 479.7,98.7 482.0,99.5 C484.3,100.3 487.0,101.2 490.0,102.0 C493.0,102.8 496.7,103.7 500.0,104.5 C503.3,105.3 506.9,106.3 510.0,107.0 C513.1,107.7 517.1,108.4 518.5,108.7" fill="none" stroke="#8a7a20" stroke-width="1" stroke-dasharray="1.2 1.3"/>
<path d="M361.0,111.5 C361.2,112.2 361.5,114.4 362.0,116.0 C362.5,117.6 363.3,119.6 364.0,121.3 C364.7,123.0 365.0,124.8 366.0,126.2 C367.0,127.6 368.5,128.7 370.0,129.5 C371.5,130.3 372.5,130.4 375.0,131.1 C377.5,131.8 381.5,132.8 385.0,133.5 C388.5,134.2 391.8,134.9 396.0,135.5 C400.2,136.1 403.5,136.1 410.0,137.0 C416.5,137.9 427.5,140.2 435.0,141.0 C442.5,141.8 448.3,141.8 455.0,142.0 C461.7,142.2 467.5,142.2 475.0,142.5 C482.5,142.8 492.8,143.2 500.0,143.6 C507.2,144.0 515.4,144.6 518.5,144.8" fill="none" stroke="#f060c8" stroke-width="5.6000000000000005" stroke-linecap="round" stroke-linejoin="round"/>
<path d="M361.0,111.5 C361.2,112.2 361.5,114.4 362.0,116.0 C362.5,117.6 363.3,119.6 364.0,121.3 C364.7,123.0 365.0,124.8 366.0,126.2 C367.0,127.6 368.5,128.7 370.0,129.5 C371.5,130.3 372.5,130.4 375.0,131.1 C377.5,131.8 381.5,132.8 385.0,133.5 C388.5,134.2 391.8,134.9 396.0,135.5 C400.2,136.1 403.5,136.1 410.0,137.0 C416.5,137.9 427.5,140.2 435.0,141.0 C442.5,141.8 448.3,141.8 455.0,142.0 C461.7,142.2 467.5,142.2 475.0,142.5 C482.5,142.8 492.8,143.2 500.0,143.6 C507.2,144.0 515.4,144.6 518.5,144.8" fill="none" stroke="#fac0ea" stroke-width="4.4" stroke-linecap="round" stroke-linejoin="round"/>
<path d="M361.0,111.5 C361.2,112.2 361.5,114.4 362.0,116.0 C362.5,117.6 363.3,119.6 364.0,121.3 C364.7,123.0 365.0,124.8 366.0,126.2 C367.0,127.6 368.5,128.7 370.0,129.5 C371.5,130.3 372.5,130.4 375.0,131.1 C377.5,131.8 381.5,132.8 385.0,133.5 C388.5,134.2 391.8,134.9 396.0,135.5 C400.2,136.1 403.5,136.1 410.0,137.0 C416.5,137.9 427.5,140.2 435.0,141.0 C442.5,141.8 448.3,141.8 455.0,142.0 C461.7,142.2 467.5,142.2 475.0,142.5 C482.5,142.8 492.8,143.2 500.0,143.6 C507.2,144.0 515.4,144.6 518.5,144.8" fill="none" stroke="#f27ad4" stroke-width="1" stroke-dasharray="1.2 1.3"/>
<path d="M361.0,136.5 C361.7,136.8 362.7,137.8 365.0,138.4 C367.3,139.0 370.0,139.5 375.0,140.0 C380.0,140.5 389.2,140.6 395.0,141.3 C400.8,142.0 405.8,143.1 410.0,144.0 C414.2,144.9 416.7,146.2 420.0,147.0 C423.3,147.8 427.2,148.3 430.0,148.8 C432.8,149.3 434.5,149.4 437.0,150.0 C439.5,150.6 442.5,151.5 445.0,152.5 C447.5,153.5 450.2,155.1 452.0,156.0 C453.8,156.9 454.7,157.4 456.0,157.8 C457.3,158.2 458.7,158.5 460.0,158.4 C461.3,158.3 462.3,157.3 464.0,157.0 C465.7,156.7 467.3,156.6 470.0,156.6 C472.7,156.6 475.8,156.7 480.0,156.9 C484.2,157.1 488.6,157.4 495.0,157.6 C501.4,157.8 514.6,157.9 518.5,158.0" fill="none" stroke="#2a2a2a" stroke-width="5.4" stroke-linecap="round" stroke-linejoin="round"/>
<path d="M361.0,136.5 C361.7,136.8 362.7,137.8 365.0,138.4 C367.3,139.0 370.0,139.5 375.0,140.0 C380.0,140.5 389.2,140.6 395.0,141.3 C400.8,142.0 405.8,143.1 410.0,144.0 C414.2,144.9 416.7,146.2 420.0,147.0 C423.3,147.8 427.2,148.3 430.0,148.8 C432.8,149.3 434.5,149.4 437.0,150.0 C439.5,150.6 442.5,151.5 445.0,152.5 C447.5,153.5 450.2,155.1 452.0,156.0 C453.8,156.9 454.7,157.4 456.0,157.8 C457.3,158.2 458.7,158.5 460.0,158.4 C461.3,158.3 462.3,157.3 464.0,157.0 C465.7,156.7 467.3,156.6 470.0,156.6 C472.7,156.6 475.8,156.7 480.0,156.9 C484.2,157.1 488.6,157.4 495.0,157.6 C501.4,157.8 514.6,157.9 518.5,158.0" fill="none" stroke="#747474" stroke-width="4.2" stroke-linecap="round" stroke-linejoin="round"/>
<path d="M361.0,136.5 C361.7,136.8 362.7,137.8 365.0,138.4 C367.3,139.0 370.0,139.5 375.0,140.0 C380.0,140.5 389.2,140.6 395.0,141.3 C400.8,142.0 405.8,143.1 410.0,144.0 C414.2,144.9 416.7,146.2 420.0,147.0 C423.3,147.8 427.2,148.3 430.0,148.8 C432.8,149.3 434.5,149.4 437.0,150.0 C439.5,150.6 442.5,151.5 445.0,152.5 C447.5,153.5 450.2,155.1 452.0,156.0 C453.8,156.9 454.7,157.4 456.0,157.8 C457.3,158.2 458.7,158.5 460.0,158.4 C461.3,158.3 462.3,157.3 464.0,157.0 C465.7,156.7 467.3,156.6 470.0,156.6 C472.7,156.6 475.8,156.7 480.0,156.9 C484.2,157.1 488.6,157.4 495.0,157.6 C501.4,157.8 514.6,157.9 518.5,158.0" fill="none" stroke="#1a1a1a" stroke-width="1" stroke-dasharray="1.2 1.3"/>
<path d="M361.0,157.5 C361.8,157.8 364.2,158.9 366.0,159.5 C367.8,160.1 368.8,160.5 372.0,160.8 C375.2,161.1 380.3,161.1 385.0,161.5 C389.7,161.9 394.2,162.5 400.0,163.0 C405.8,163.5 412.3,164.1 420.0,164.5 C427.7,164.9 441.7,165.4 446.0,165.6" fill="none" stroke="#1f8a3c" stroke-width="4.2" stroke-linecap="round" stroke-linejoin="round"/>
<path d="M361.0,157.5 C361.8,157.8 364.2,158.9 366.0,159.5 C367.8,160.1 368.8,160.5 372.0,160.8 C375.2,161.1 380.3,161.1 385.0,161.5 C389.7,161.9 394.2,162.5 400.0,163.0 C405.8,163.5 412.3,164.1 420.0,164.5 C427.7,164.9 441.7,165.4 446.0,165.6" fill="none" stroke="#3f9a5a" stroke-width="3.0" stroke-linecap="round" stroke-linejoin="round"/>
<path d="M361.0,157.5 C361.8,157.8 364.2,158.9 366.0,159.5 C367.8,160.1 368.8,160.5 372.0,160.8 C375.2,161.1 380.3,161.1 385.0,161.5 C389.7,161.9 394.2,162.5 400.0,163.0 C405.8,163.5 412.3,164.1 420.0,164.5 C427.7,164.9 441.7,165.4 446.0,165.6" fill="none" stroke="#1f7a34" stroke-width="1" stroke-dasharray="1.2 1.3"/>
<path d="M361.0,160.0 C361.7,160.4 363.5,161.8 365.0,162.5 C366.5,163.2 367.5,163.7 370.0,164.0 C372.5,164.3 375.8,164.4 380.0,164.5 C384.2,164.6 390.0,164.5 395.0,164.3 C400.0,164.2 400.8,163.8 410.0,163.6 C419.2,163.4 438.3,163.3 450.0,163.3 C461.7,163.3 468.6,163.4 480.0,163.4 C491.4,163.4 512.1,163.6 518.5,163.6" fill="none" stroke="#f08a26" stroke-width="5.4" stroke-linecap="round" stroke-linejoin="round"/>
<path d="M361.0,160.0 C361.7,160.4 363.5,161.8 365.0,162.5 C366.5,163.2 367.5,163.7 370.0,164.0 C372.5,164.3 375.8,164.4 380.0,164.5 C384.2,164.6 390.0,164.5 395.0,164.3 C400.0,164.2 400.8,163.8 410.0,163.6 C419.2,163.4 438.3,163.3 450.0,163.3 C461.7,163.3 468.6,163.4 480.0,163.4 C491.4,163.4 512.1,163.6 518.5,163.6" fill="none" stroke="#f8c27e" stroke-width="4.2" stroke-linecap="round" stroke-linejoin="round"/>
<path d="M361.0,160.0 C361.7,160.4 363.5,161.8 365.0,162.5 C366.5,163.2 367.5,163.7 370.0,164.0 C372.5,164.3 375.8,164.4 380.0,164.5 C384.2,164.6 390.0,164.5 395.0,164.3 C400.0,164.2 400.8,163.8 410.0,163.6 C419.2,163.4 438.3,163.3 450.0,163.3 C461.7,163.3 468.6,163.4 480.0,163.4 C491.4,163.4 512.1,163.6 518.5,163.6" fill="none" stroke="#f0a040" stroke-width="1" stroke-dasharray="1.2 1.3"/>
<circle cx="362.8" cy="159.7" r="1.2" fill="none" stroke="#f09030" stroke-width="0.6"/>
<circle cx="361.2" cy="167.7" r="1.2" fill="none" stroke="#f09030" stroke-width="0.6"/>
<circle cx="361.1" cy="160.9" r="1.2" fill="none" stroke="#f09030" stroke-width="0.6"/>
<circle cx="364.4" cy="155.1" r="1.2" fill="none" stroke="#f09030" stroke-width="0.6"/>
<circle cx="363.9" cy="168.2" r="1.2" fill="none" stroke="#f09030" stroke-width="0.6"/>
<circle cx="363.5" cy="165.6" r="1.2" fill="none" stroke="#f09030" stroke-width="0.6"/>
<circle cx="361.4" cy="160.0" r="1.2" fill="none" stroke="#f09030" stroke-width="0.6"/>
<circle cx="361.6" cy="166.5" r="1.2" fill="none" stroke="#f09030" stroke-width="0.6"/>
<circle cx="362.2" cy="160.3" r="1.2" fill="none" stroke="#f09030" stroke-width="0.6"/>
<circle cx="365.0" cy="166.6" r="1.2" fill="none" stroke="#f09030" stroke-width="0.6"/>
<path d="M361.0,184.8 C361.3,184.3 362.2,182.6 363.0,181.8 C363.8,181.0 364.5,180.7 366.0,180.2 C367.5,179.7 368.8,179.2 372.0,178.8 C375.2,178.4 377.7,178.1 385.0,177.9 C392.3,177.7 403.5,177.6 416.0,177.6 C428.5,177.6 442.9,177.7 460.0,177.8 C477.1,177.9 508.8,178.1 518.5,178.2" fill="none" stroke="#6f6fe6" stroke-width="6.0" stroke-linecap="round" stroke-linejoin="round"/>
<path d="M361.0,184.8 C361.3,184.3 362.2,182.6 363.0,181.8 C363.8,181.0 364.5,180.7 366.0,180.2 C367.5,179.7 368.8,179.2 372.0,178.8 C375.2,178.4 377.7,178.1 385.0,177.9 C392.3,177.7 403.5,177.6 416.0,177.6 C428.5,177.6 442.9,177.7 460.0,177.8 C477.1,177.9 508.8,178.1 518.5,178.2" fill="none" stroke="#d0d0fa" stroke-width="4.8" stroke-linecap="round" stroke-linejoin="round"/>
<path d="M361.0,184.8 C361.3,184.3 362.2,182.6 363.0,181.8 C363.8,181.0 364.5,180.7 366.0,180.2 C367.5,179.7 368.8,179.2 372.0,178.8 C375.2,178.4 377.7,178.1 385.0,177.9 C392.3,177.7 403.5,177.6 416.0,177.6 C428.5,177.6 442.9,177.7 460.0,177.8 C477.1,177.9 508.8,178.1 518.5,178.2" fill="none" stroke="#9d9df2" stroke-width="1" stroke-dasharray="1.2 1.3"/>
<circle cx="361" cy="174.1" r="1.2" fill="none" stroke="#2a2ad0" stroke-width="0.7"/><circle cx="361" cy="171" r="1.2" fill="none" stroke="#2a2ad0" stroke-width="0.7"/><circle cx="359.8" cy="184" r="1.5" fill="#fff" stroke="#a0a0f0" stroke-width="0.6"/>
<rect x="359.5" y="45.3" width="162.29999999999995" height="158.0" fill="none" stroke="#000" stroke-width="0.8"/>
<text x="384.5" y="94.3" class="eb" fill="#8b8a2b">V<tspan dy="2" style="font-size:6px">2</tspan><tspan dy="-2">C @ 1C</tspan></text>
<text x="374.3" y="122.4" class="eb" fill="#f47920">Nb<tspan dy="2" style="font-size:6px">2</tspan><tspan dy="-2">C @ 10C</tspan></text>
<text x="429" y="135.9" class="eb" fill="#d63aa8">Nb<tspan dy="2" style="font-size:6px">2</tspan><tspan dy="-2">C @ 1C</tspan></text>
<text x="458.5" y="117.9" class="eb" fill="#1a1a1a">V<tspan dy="2" style="font-size:6px">2</tspan><tspan dy="-2">C @ 10C</tspan></text>
<text x="367.5" y="157.5" class="eb" fill="#1e7a30">Ti<tspan dy="2" style="font-size:6px">2</tspan><tspan dy="-2">C @ 1C</tspan></text>
<text x="459" y="190" class="eb" fill="#2b6aa6">Ti<tspan dy="2" style="font-size:6px">2</tspan><tspan dy="-2">C @ 10C</tspan></text>
<line x1="406.4" y1="125.5" x2="424.8" y2="155.5" stroke="#f39a3c" stroke-width="1.3" stroke-dasharray="2.4 1.6"/><path d="M426.8,159.4 L422.4,155.8 L426.6,153.8 Z" fill="#f39a3c"/>
<line x1="491" y1="120.5" x2="507.2" y2="150.5" stroke="#111" stroke-width="1.1" stroke-dasharray="2.2 1.6"/><path d="M509,155 L504.8,151.2 L508.8,149.2 Z" fill="#111"/>
<path d="M471.5,59.1 H477 V72.6 H495.4 V69.3 L502,75.5 L495.4,81.7 V78.7 H471.5 Z" fill="#2574b8"/>
</svg>
</body></html>
